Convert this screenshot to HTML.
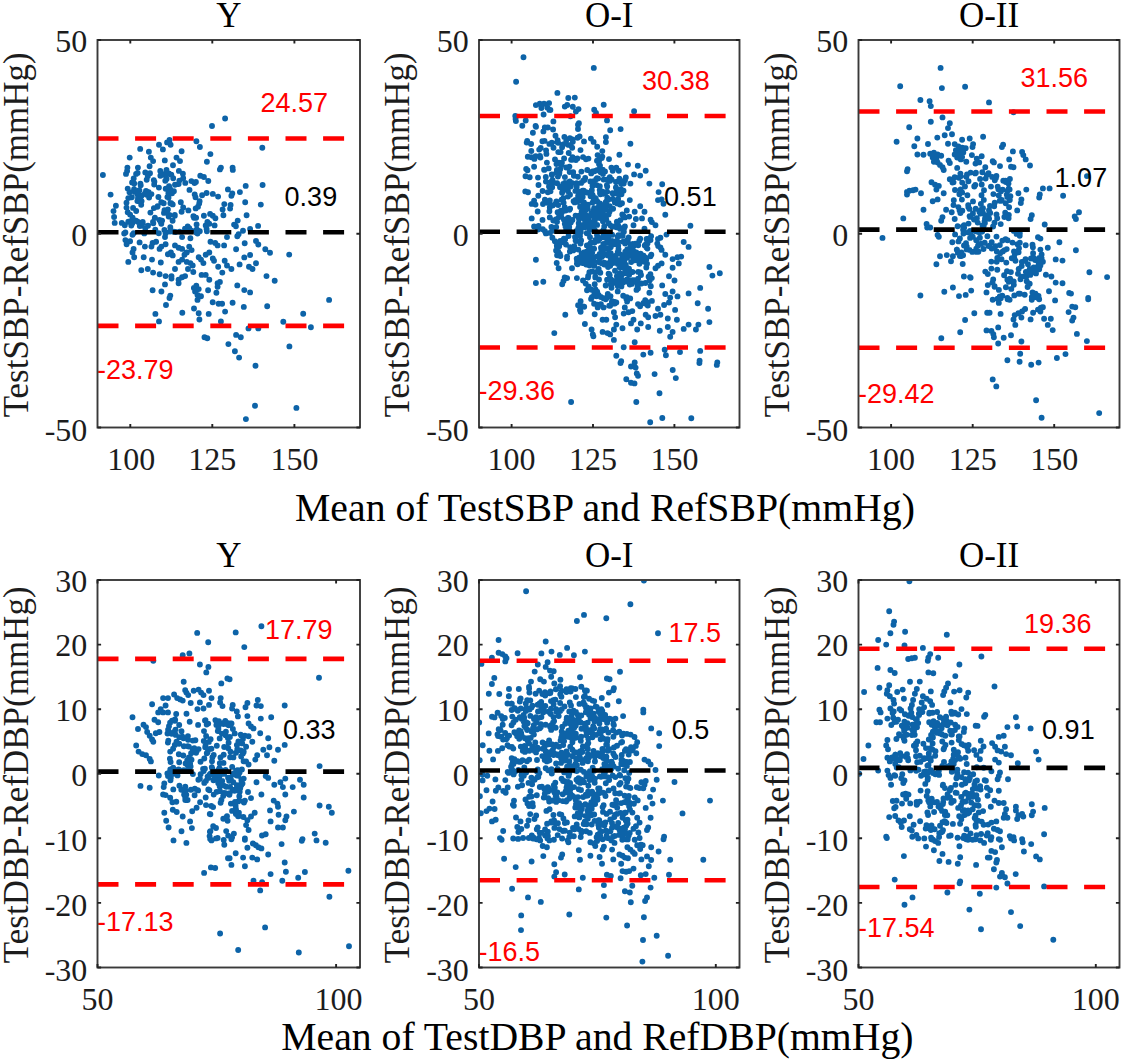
<!DOCTYPE html><html><head><meta charset="utf-8"><style>html,body{margin:0;padding:0;background:#fff;width:1125px;height:1062px;overflow:hidden}svg{display:block}.s{font-family:"Liberation Serif",serif;fill:#1c1c1c}.a{font-family:"Liberation Sans",sans-serif;font-size:27px}</style></head><body>
<svg width="1125" height="1062" viewBox="0 0 1125 1062">
<rect width="1125" height="1062" fill="#fff"/>
<defs><filter id="bl" x="-5%" y="-5%" width="110%" height="110%"><feGaussianBlur stdDeviation="0.45"/></filter></defs>
<clipPath id="ct1"><rect x="97.5" y="40.0" width="262.5" height="387.5"/></clipPath>
<g clip-path="url(#ct1)"><path filter="url(#bl)" d="M225.1 118.5h0M212.0 126.0h0M262.3 147.7h0M199.9 147.0h0M196.4 141.2h0M210.4 154.1h0M206.9 161.8h0M181.6 151.3h0M167.1 142.4h0M170.6 144.7h0M159.0 144.7h0M162.9 149.4h0M140.2 148.9h0M148.9 151.7h0M129.7 157.6h0M150.8 157.6h0M153.1 161.1h0M164.8 160.4h0M176.5 157.6h0M180.0 161.1h0M173.0 165.3h0M149.6 166.2h0M127.4 167.6h0M137.9 167.6h0M220.9 167.6h0M232.6 167.6h0M169.5 140.0h0M124.2 233.5h0M125.4 240.1h0M127.7 241.8h0M130.1 241.2h0M126.6 244.2h0M132.5 234.7h0M139.6 242.4h0M144.9 246.6h0M133.6 248.9h0M132.5 252.5h0M134.2 257.2h0M128.3 261.9h0M143.7 257.2h0M152.0 259.6h0M160.8 262.5h0M152.6 243.0h0M156.1 241.8h0M151.4 246.6h0M159.6 248.9h0M161.4 246.6h0M165.6 244.2h0M165.0 237.1h0M165.6 233.5h0M164.4 230.0h0M167.9 254.2h0M170.9 252.5h0M172.7 255.4h0M175.0 245.4h0M178.6 247.7h0M182.1 248.9h0M182.1 237.1h0M190.4 238.3h0M189.2 246.6h0M191.6 250.1h0M186.8 252.5h0M184.5 254.8h0M178.6 261.9h0M182.1 259.6h0M186.8 261.9h0M190.4 263.1h0M192.7 265.5h0M175.0 269.0h0M188.0 269.0h0M193.3 272.0h0M141.3 270.2h0M147.8 269.0h0M153.1 272.6h0M159.6 274.3h0M165.6 276.1h0M171.5 276.1h0M171.5 278.5h0M178.6 279.7h0M182.1 277.3h0M185.1 276.1h0M178.6 283.2h0M165.0 284.4h0M152.6 290.3h0M161.4 291.5h0M170.3 295.6h0M193.9 287.9h0M196.3 285.6h0M195.1 291.5h0M198.7 289.1h0M197.5 295.0h0M201.0 296.2h0M208.1 290.3h0M201.6 274.9h0M205.7 274.9h0M209.3 279.7h0M217.6 283.2h0M219.9 282.0h0M217.6 286.8h0M216.4 292.7h0M218.2 266.7h0M222.3 272.6h0M198.7 257.2h0M201.0 259.6h0M203.4 263.1h0M205.7 254.8h0M209.3 252.5h0M212.8 258.4h0M214.0 260.7h0M224.7 260.7h0M227.0 265.5h0M210.5 241.8h0M215.2 243.0h0M217.6 245.4h0M224.1 245.4h0M227.0 237.1h0M206.9 231.2h0M197.5 233.5h0M199.8 231.2h0M196.3 230.0h0M237.3 236.3h0M244.7 243.3h0M236.1 249.2h0M256.0 241.0h0M258.3 244.5h0M265.3 249.2h0M270.0 252.7h0M289.2 254.6h0M244.3 257.4h0M250.1 255.0h0M231.4 269.0h0M239.6 264.4h0M249.0 266.7h0M256.0 263.2h0M252.5 269.0h0M266.5 276.1h0M274.7 280.7h0M237.3 285.4h0M244.3 290.1h0M250.1 292.4h0M166.0 305.0h0M155.4 313.9h0M159.0 321.4h0M182.3 312.7h0M194.0 308.5h0M198.7 313.2h0M199.4 319.5h0M197.5 299.9h0M208.7 313.9h0M212.7 302.2h0M218.6 303.8h0M222.1 303.8h0M225.1 311.6h0M232.6 302.7h0M243.8 306.9h0M267.2 306.2h0M220.9 321.4h0M204.5 337.3h0M207.3 338.2h0M236.1 334.9h0M240.8 337.3h0M228.4 344.1h0M234.9 351.3h0M239.1 357.6h0M248.5 328.4h0M258.3 328.4h0M283.3 321.8h0M303.2 313.7h0M310.9 327.2h0M289.4 346.4h0M329.1 299.9h0M169.5 298.0h0M255.5 365.8h0M255.0 405.8h0M296.4 407.9h0M245.9 419.1h0M219.9 169.4h0M232.8 169.9h0M200.3 175.7h0M203.9 177.0h0M208.3 181.0h0M195.9 181.9h0M245.7 185.9h0M262.6 185.0h0M227.9 189.4h0M232.3 193.4h0M231.4 195.7h0M239.9 192.1h0M202.1 195.2h0M206.6 193.0h0M212.8 193.9h0M218.1 196.6h0M245.2 202.3h0M260.8 204.6h0M224.3 204.1h0M222.6 209.4h0M223.4 215.2h0M230.6 205.0h0M230.1 208.6h0M246.6 215.2h0M203.9 215.7h0M210.1 213.9h0M212.8 215.7h0M215.4 218.3h0M207.4 221.9h0M205.7 225.4h0M209.2 223.7h0M214.6 225.4h0M206.6 229.0h0M237.7 220.6h0M234.1 224.6h0M235.9 226.3h0M258.1 225.9h0M243.0 230.8h0M238.6 234.3h0M250.1 229.0h0M102.9 175.0h0M110.6 194.6h0M115.9 205.8h0M113.5 211.1h0M114.1 217.0h0M114.7 222.9h0M121.8 222.9h0M126.5 202.8h0M126.5 207.6h0M127.7 212.3h0M130.1 214.6h0M128.3 221.7h0M124.8 225.3h0M125.4 232.4h0M127.1 170.9h0M126.0 173.9h0M127.7 188.6h0M129.5 192.2h0M128.3 198.1h0M132.1 182.5h0M137.4 194.3h0M134.6 191.8h0M141.4 196.1h0M158.9 187.6h0M147.8 176.3h0M134.1 189.1h0M138.0 198.3h0M146.0 190.9h0M137.4 201.1h0M147.3 194.5h0M134.2 183.5h0M146.7 194.7h0M151.4 194.1h0M144.8 193.8h0M160.3 170.9h0M137.6 172.9h0M140.4 183.6h0M133.7 178.5h0M150.0 173.2h0M136.1 173.9h0M140.7 185.2h0M141.6 201.1h0M139.4 190.2h0M147.6 195.0h0M145.3 172.4h0M158.4 197.0h0M154.4 181.7h0M146.7 179.8h0M160.4 175.8h0M141.5 195.4h0M154.2 184.5h0M149.1 197.6h0M131.8 197.2h0M148.7 192.1h0M153.8 180.1h0M173.2 178.2h0M175.0 184.7h0M166.6 178.9h0M178.6 184.0h0M168.5 197.7h0M185.3 182.9h0M166.3 174.7h0M194.7 194.5h0M164.5 174.9h0M171.3 174.8h0M168.4 193.2h0M191.4 181.1h0M165.7 188.8h0M169.1 186.2h0M182.9 173.7h0M172.1 193.3h0M178.9 170.9h0M165.6 173.4h0M173.9 191.3h0M179.4 180.6h0M170.2 189.2h0M168.7 173.4h0M183.2 178.3h0M194.5 183.1h0M189.5 189.9h0M166.5 170.0h0M165.3 180.8h0M167.4 197.1h0M195.5 197.2h0M153.3 223.3h0M157.4 206.8h0M148.0 225.7h0M141.6 224.7h0M153.0 221.9h0M136.2 211.0h0M158.8 233.3h0M142.7 221.9h0M139.8 226.0h0M137.7 221.7h0M150.4 212.6h0M131.3 225.6h0M132.6 217.6h0M144.3 233.4h0M159.5 219.9h0M153.9 208.1h0M161.3 202.3h0M136.1 220.7h0M133.1 207.9h0M161.3 223.8h0M142.7 222.9h0M157.6 206.2h0M162.1 220.6h0M160.7 221.9h0M154.9 217.6h0M145.3 228.3h0M155.3 229.8h0M154.8 218.0h0M130.7 221.1h0M141.2 204.7h0M133.7 233.2h0M132.2 223.5h0M140.2 225.9h0M171.3 203.2h0M175.6 232.0h0M174.8 215.8h0M193.4 216.2h0M191.3 230.7h0M185.0 228.8h0M164.5 210.3h0M163.7 203.3h0M170.3 227.2h0M167.6 210.1h0M164.0 212.9h0M169.5 215.0h0M170.0 231.6h0M195.7 208.4h0M189.3 228.2h0M187.7 226.4h0M172.7 204.4h0M183.2 207.4h0M172.6 220.7h0M181.6 211.7h0M180.8 202.2h0M174.8 214.9h0M179.7 231.6h0M173.0 231.5h0M168.7 216.5h0M188.4 210.4h0M170.4 203.3h0M167.9 209.5h0M194.0 217.7h0M198.0 206.8h0M196.1 217.8h0M196.2 232.4h0M199.6 201.2h0M196.8 229.5h0M196.6 224.4h0M199.2 203.6h0" stroke="#0a63a8" stroke-width="5.9" stroke-linecap="round" fill="none"/></g>
<line x1="97.5" x2="360.0" y1="138.5" y2="138.5" stroke="#ff0000" stroke-width="4.6" stroke-dasharray="21 16.6"/>
<line x1="97.5" x2="360.0" y1="232.2" y2="232.2" stroke="#000" stroke-width="4.6" stroke-dasharray="21 16.6"/>
<line x1="97.5" x2="360.0" y1="325.9" y2="325.9" stroke="#ff0000" stroke-width="4.6" stroke-dasharray="21 16.6"/>
<text class="a" x="260.4" y="112.0" fill="#ff0000">24.57</text>
<text class="a" x="284.6" y="205.5" fill="#000">0.39</text>
<text class="a" x="97.0" y="378.5" fill="#ff0000">-23.79</text>
<rect x="97.5" y="40.0" width="262.5" height="387.5" fill="none" stroke="#3a3a3a" stroke-width="1.9"/>
<path d="M130.3 427.5v-3.6M130.3 40.0v3.6M212.3 427.5v-3.6M212.3 40.0v3.6M294.4 427.5v-3.6M294.4 40.0v3.6M97.5 40.0h3.6M360.0 40.0h-3.6M97.5 233.8h3.6M360.0 233.8h-3.6M97.5 427.5h3.6M360.0 427.5h-3.6" stroke="#222" stroke-width="1.9" fill="none"/>
<text class="s" x="131.3" y="470.0" font-size="32" text-anchor="middle">100</text>
<text class="s" x="212.3" y="470.0" font-size="32" text-anchor="middle">125</text>
<text class="s" x="294.4" y="470.0" font-size="32" text-anchor="middle">150</text>
<text class="s" x="87.3" y="51.5" font-size="32" text-anchor="end">50</text>
<text class="s" x="87.3" y="246.2" font-size="32" text-anchor="end">0</text>
<text class="s" x="87.3" y="441.0" font-size="32" text-anchor="end">-50</text>
<text class="s" x="228.8" y="26.5" font-size="35" text-anchor="middle" style="fill:#000">Y</text>
<text class="s" transform="translate(27.8,234.8) rotate(-90)" x="0" y="0" font-size="35" text-anchor="middle">TestSBP-RefSBP(mmHg)</text>
<clipPath id="ct2"><rect x="479.0" y="40.0" width="260.5" height="387.5"/></clipPath>
<g clip-path="url(#ct2)"><path filter="url(#bl)" d="M523.5 57.2h0M593.8 67.9h0M516.1 81.8h0M557.4 92.9h0M568.3 98.0h0M574.8 97.6h0M539.8 103.8h0M544.0 103.8h0M549.1 103.1h0M567.2 105.0h0M620.5 363.0h0M631.0 366.5h0M635.6 367.6h0M636.8 373.4h0M638.0 375.8h0M626.3 379.2h0M631.0 382.7h0M634.5 383.4h0M654.6 374.1h0M672.7 370.0h0M675.8 378.1h0M659.5 393.2h0M636.3 402.0h0M571.1 402.0h0M662.3 418.0h0M650.2 422.2h0M691.3 418.2h0M699.4 363.0h0M716.8 364.9h0M634.1 111.3h0M610.2 130.3h0M620.6 129.1h0M630.4 143.8h0M619.4 154.8h0M609.0 159.1h0M628.0 164.6h0M637.8 165.8h0M645.7 170.7h0M634.1 174.4h0M640.2 175.6h0M611.4 167.6h0M616.3 167.6h0M618.8 170.7h0M612.7 170.7h0M619.4 178.7h0M623.7 183.6h0M630.4 183.6h0M649.4 183.6h0M662.2 184.2h0M658.6 192.1h0M658.0 200.1h0M661.6 199.5h0M663.5 203.8h0M665.3 214.8h0M690.4 225.8h0M629.8 200.1h0M640.2 206.2h0M644.5 211.7h0M634.7 211.7h0M629.2 216.6h0M635.9 219.0h0M642.0 218.4h0M650.6 219.7h0M651.8 222.1h0M655.5 225.2h0M633.5 225.2h0M624.9 226.4h0M644.5 228.8h0M535.9 259.7h0M535.9 283.0h0M543.3 281.7h0M558.6 268.3h0M572.0 268.3h0M564.7 277.5h0M567.1 278.1h0M562.2 284.2h0M563.5 281.1h0M576.9 278.1h0M583.0 280.5h0M556.1 250.5h0M560.4 256.0h0M552.4 237.7h0M554.9 241.3h0M580.6 301.3h0M580.0 309.9h0M580.6 311.7h0M565.3 314.8h0M584.9 324.0h0M554.3 333.1h0M591.6 329.5h0M592.8 334.4h0M593.4 336.2h0M594.7 314.2h0M602.6 319.7h0M606.3 319.7h0M602.6 331.9h0M607.5 333.1h0M597.7 307.4h0M594.1 303.8h0M658.0 238.9h0M660.4 237.7h0M666.5 234.6h0M683.7 242.0h0M688.6 246.9h0M665.3 254.8h0M660.4 247.5h0M661.6 249.9h0M672.6 259.1h0M677.5 257.3h0M681.2 256.6h0M678.8 263.4h0M672.6 267.7h0M661.6 263.4h0M658.0 265.8h0M655.5 268.3h0M651.8 278.1h0M669.0 276.2h0M674.5 280.5h0M662.2 285.4h0M709.4 267.0h0M712.4 275.6h0M719.8 273.2h0M700.2 287.9h0M688.6 293.4h0M672.6 291.5h0M665.3 294.0h0M670.2 297.6h0M677.5 296.4h0M697.7 303.2h0M708.1 308.7h0M658.0 308.7h0M664.1 305.0h0M669.0 302.5h0M675.1 309.9h0M655.5 316.0h0M660.4 314.8h0M645.7 314.8h0M648.2 317.2h0M667.8 318.5h0M676.9 319.7h0M709.4 322.1h0M688.6 324.6h0M698.4 324.6h0M695.9 329.5h0M683.7 328.9h0M667.8 327.0h0M672.6 331.9h0M670.2 336.8h0M659.8 330.7h0M648.2 327.0h0M637.2 329.5h0M640.8 323.4h0M613.9 312.3h0M615.1 317.2h0M623.7 313.6h0M628.6 312.3h0M632.3 311.1h0M633.5 319.7h0M631.0 323.4h0M616.3 324.6h0M613.9 329.5h0M622.5 328.3h0M610.2 334.4h0M613.9 339.9h0M623.7 347.2h0M634.7 342.3h0M616.3 355.8h0M621.2 361.3h0M634.7 362.5h0M643.3 354.6h0M650.6 352.7h0M664.7 349.7h0M665.9 355.2h0M680.0 352.1h0M700.2 350.9h0M699.6 360.7h0M717.3 362.5h0M543.6 114.5h0M522.3 125.8h0M515.6 119.0h0M541.4 108.1h0M536.0 126.8h0M535.6 125.9h0M525.7 120.5h0M515.9 121.1h0M532.9 132.7h0M535.9 105.1h0M543.4 131.4h0M515.3 116.0h0M570.5 116.2h0M575.9 111.6h0M553.1 129.5h0M547.5 107.7h0M553.4 121.4h0M555.5 135.8h0M564.8 106.6h0M544.8 127.5h0M547.8 127.5h0M550.4 110.0h0M572.8 106.8h0M549.4 109.9h0M578.9 123.3h0M594.2 109.8h0M579.6 136.5h0M607.0 120.4h0M578.0 124.8h0M578.5 109.1h0M603.7 104.8h0M596.0 112.9h0M578.0 129.0h0M542.4 141.3h0M531.3 157.2h0M540.0 156.0h0M539.2 149.6h0M534.4 158.9h0M534.1 166.7h0M526.2 168.9h0M540.7 147.9h0M527.8 156.8h0M535.7 156.3h0M526.7 142.6h0M540.4 157.5h0M527.2 141.0h0M531.3 151.0h0M531.1 144.0h0M555.0 159.5h0M544.5 140.9h0M561.9 162.8h0M563.2 144.4h0M556.5 164.1h0M548.7 168.4h0M566.3 140.3h0M571.1 159.8h0M546.1 150.5h0M569.4 166.6h0M546.9 162.6h0M561.4 165.0h0M569.9 138.1h0M564.4 137.0h0M566.2 167.5h0M558.3 152.1h0M562.1 147.3h0M575.9 160.1h0M553.5 147.7h0M558.1 142.8h0M568.7 153.0h0M546.4 153.9h0M549.4 143.9h0M572.8 141.8h0M572.1 159.8h0M564.1 158.5h0M572.6 157.1h0M568.5 144.9h0M557.6 140.3h0M572.2 147.7h0M558.8 162.7h0M572.4 139.5h0M570.8 145.5h0M557.2 142.1h0M551.8 142.7h0M560.6 152.1h0M600.0 165.8h0M597.0 160.7h0M577.4 158.5h0M602.3 156.6h0M602.3 151.1h0M583.1 157.1h0M590.9 138.6h0M588.4 158.6h0M597.2 146.7h0M605.9 137.3h0M601.8 158.1h0M593.6 141.9h0M577.6 137.7h0M584.0 141.4h0M586.0 159.2h0M605.9 142.1h0M599.0 164.0h0M599.0 161.4h0M600.3 158.2h0M597.6 155.1h0M580.5 150.1h0M534.1 200.6h0M538.0 177.6h0M527.5 170.3h0M525.3 191.4h0M538.5 185.0h0M525.5 176.3h0M538.3 195.8h0M542.6 191.0h0M529.7 177.3h0M528.0 192.3h0M567.6 186.3h0M544.3 169.9h0M576.5 185.6h0M551.8 174.5h0M560.2 169.2h0M552.2 187.3h0M544.9 199.8h0M570.0 194.8h0M568.0 191.2h0M549.3 191.6h0M575.4 190.9h0M550.9 181.9h0M559.4 172.8h0M562.1 192.7h0M552.5 180.2h0M559.1 174.3h0M544.1 169.7h0M549.8 200.5h0M573.6 201.3h0M568.0 196.6h0M573.9 175.8h0M573.2 172.1h0M564.4 184.3h0M556.3 173.0h0M557.9 176.6h0M560.0 187.3h0M571.8 183.0h0M575.5 199.9h0M569.8 181.5h0M557.1 183.3h0M576.6 183.2h0M549.0 186.5h0M556.9 170.0h0M564.9 183.0h0M545.9 181.6h0M545.8 177.0h0M551.9 174.9h0M569.7 172.1h0M553.3 182.4h0M561.6 199.8h0M547.9 192.3h0M550.5 191.2h0M563.2 184.0h0M569.1 181.9h0M564.9 177.1h0M563.4 198.3h0M563.5 189.5h0M570.6 186.6h0M606.9 185.3h0M584.4 180.1h0M605.0 171.5h0M577.9 191.1h0M583.2 180.8h0M598.0 178.4h0M596.9 170.3h0M585.2 177.9h0M586.9 192.5h0M591.2 173.4h0M591.8 190.3h0M603.5 192.9h0M600.2 171.2h0M590.4 181.5h0M606.6 201.2h0M577.9 176.7h0M596.7 185.1h0M607.1 191.6h0M578.1 196.0h0M602.7 191.6h0M592.7 195.2h0M582.7 197.0h0M580.9 195.1h0M583.8 190.7h0M597.0 178.3h0M594.3 197.7h0M602.4 193.9h0M600.7 172.3h0M606.7 179.6h0M581.0 193.1h0M576.7 186.7h0M595.8 198.8h0M588.0 192.6h0M595.4 198.2h0M584.0 192.2h0M594.5 171.3h0M600.0 193.3h0M581.2 192.1h0M600.4 194.3h0M579.2 200.0h0M603.0 173.9h0M599.7 190.0h0M592.5 186.0h0M578.6 196.6h0M605.5 193.2h0M581.4 171.6h0M595.9 184.6h0M587.3 170.0h0M579.8 199.9h0M592.0 194.3h0M593.7 181.3h0M602.8 169.7h0M582.6 190.8h0M592.6 171.4h0M581.2 182.9h0M603.6 179.6h0M607.2 186.4h0M607.3 197.7h0M599.8 186.2h0M596.2 179.3h0M590.6 196.3h0M593.7 200.6h0M608.3 199.8h0M531.7 218.4h0M531.7 203.9h0M538.0 229.5h0M534.1 226.5h0M535.5 204.6h0M542.8 229.2h0M542.5 219.9h0M537.7 211.5h0M543.0 204.0h0M538.5 225.9h0M549.9 232.9h0M566.2 229.0h0M551.4 226.9h0M566.0 221.7h0M556.2 227.1h0M552.0 231.1h0M564.8 223.8h0M560.9 210.8h0M558.7 217.3h0M548.1 203.1h0M565.5 226.4h0M567.4 224.1h0M557.6 212.3h0M576.5 231.0h0M556.4 201.5h0M563.9 219.4h0M563.6 202.8h0M549.4 211.2h0M569.5 209.7h0M564.7 207.2h0M568.6 218.0h0M565.7 210.5h0M545.9 233.4h0M558.2 205.1h0M569.5 221.9h0M549.8 207.5h0M552.7 205.4h0M570.1 208.7h0M574.7 202.4h0M555.6 203.8h0M549.8 217.4h0M569.2 227.0h0M572.4 219.9h0M561.2 216.6h0M554.7 227.8h0M561.8 212.6h0M544.9 231.3h0M553.3 220.5h0M570.8 222.4h0M569.4 230.5h0M575.6 215.6h0M567.9 218.0h0M557.0 221.8h0M556.3 219.3h0M587.8 204.6h0M586.0 215.2h0M595.8 216.3h0M583.7 216.3h0M603.9 232.7h0M603.6 229.6h0M607.8 232.9h0M584.4 227.4h0M594.4 210.8h0M583.0 202.6h0M600.9 205.2h0M584.0 202.4h0M587.7 208.6h0M584.9 223.6h0M608.6 214.4h0M586.6 226.1h0M604.8 204.6h0M589.1 228.0h0M581.6 212.2h0M579.5 216.8h0M577.3 201.9h0M598.8 207.1h0M600.7 214.3h0M604.3 226.2h0M579.4 224.8h0M578.7 227.0h0M601.3 212.7h0M579.5 232.0h0M581.3 207.1h0M580.6 229.8h0M593.8 223.8h0M579.0 218.9h0M594.7 221.8h0M599.0 205.8h0M585.5 209.9h0M602.9 230.9h0M588.1 223.5h0M578.3 228.3h0M598.6 217.9h0M593.4 210.4h0M601.5 211.0h0M587.1 222.0h0M603.2 213.3h0M581.7 209.3h0M602.9 221.3h0M595.8 214.1h0M592.6 214.4h0M602.1 213.2h0M587.5 206.6h0M587.9 233.0h0M580.7 225.2h0M602.1 210.5h0M594.8 215.8h0M606.7 215.5h0M578.9 215.7h0M598.9 215.7h0M596.2 209.9h0M588.9 217.1h0M580.8 232.2h0M594.2 220.9h0M589.9 230.1h0M585.1 221.2h0M578.2 231.0h0M585.0 220.0h0M583.8 218.6h0M606.3 219.6h0M584.9 216.9h0M591.4 212.9h0M586.2 219.6h0M580.1 207.0h0M592.8 226.6h0M599.9 203.5h0M605.3 217.3h0M578.5 216.9h0M595.0 230.4h0M597.8 213.6h0M590.6 223.1h0M592.8 222.0h0M608.7 223.2h0M584.5 206.3h0M588.7 220.8h0M592.5 202.6h0M605.7 202.2h0M587.6 221.1h0M605.1 209.5h0M584.1 214.9h0M594.2 217.1h0M597.5 201.8h0M586.8 233.3h0M584.5 226.8h0M584.2 203.4h0M597.1 224.9h0M583.1 215.9h0M594.4 213.2h0M600.7 208.7h0M594.1 208.3h0M578.7 223.2h0M606.8 205.5h0M583.5 226.2h0M600.8 218.3h0M588.3 233.4h0M587.4 233.1h0M616.6 191.8h0M620.4 220.1h0M619.6 193.6h0M624.9 217.4h0M623.6 215.9h0M620.2 228.9h0M617.6 203.5h0M623.0 190.9h0M623.9 231.7h0M621.5 194.2h0M615.1 226.2h0M612.2 226.7h0M614.9 202.4h0M617.0 193.2h0M620.5 181.5h0M609.5 211.7h0M618.1 225.3h0M611.6 179.5h0M622.0 203.2h0M610.2 180.7h0M619.0 194.3h0M616.3 227.2h0M625.8 177.5h0M613.1 208.8h0M609.8 177.1h0M610.6 225.6h0M614.7 193.4h0M620.0 204.6h0M625.0 180.2h0M615.9 187.5h0M621.4 228.1h0M626.8 210.5h0M612.5 193.2h0M621.2 183.5h0M609.7 206.3h0M616.9 221.7h0M612.6 198.9h0M618.1 199.0h0M617.2 203.4h0M624.1 228.3h0M620.0 228.4h0M618.0 203.5h0M616.0 181.9h0M622.3 214.4h0M620.8 189.1h0M623.5 190.8h0M589.5 265.5h0M604.3 264.6h0M586.6 252.7h0M590.0 237.3h0M590.8 242.7h0M603.0 250.4h0M592.5 256.7h0M598.1 240.8h0M582.5 263.0h0M601.3 249.3h0M576.9 263.6h0M577.6 235.0h0M576.7 258.6h0M594.3 265.8h0M591.9 253.6h0M590.5 254.0h0M589.8 259.9h0M599.0 257.6h0M586.2 264.6h0M608.8 253.1h0M601.7 257.0h0M607.6 235.2h0M582.1 259.5h0M597.0 235.3h0M607.1 263.5h0M608.4 265.2h0M590.1 253.6h0M582.7 258.8h0M579.0 260.4h0M595.5 240.0h0M604.2 262.7h0M603.3 244.0h0M577.0 260.7h0M603.1 255.4h0M599.7 254.0h0M579.5 257.4h0M601.8 263.2h0M603.7 246.9h0M608.3 237.9h0M601.5 252.9h0M606.9 242.5h0M581.1 240.5h0M578.3 249.6h0M603.5 263.1h0M606.0 263.5h0M592.2 252.4h0M588.7 257.2h0M603.5 234.6h0M604.7 237.5h0M583.6 255.2h0M608.8 263.6h0M609.1 240.1h0M593.5 261.0h0M589.7 244.4h0M608.0 255.6h0M586.7 255.0h0M577.6 264.2h0M580.5 243.5h0M606.1 248.5h0M598.7 261.9h0M584.1 259.6h0M599.8 262.6h0M590.0 247.0h0M590.6 261.5h0M594.1 248.8h0M597.2 256.4h0M607.4 248.4h0M581.7 253.5h0M580.0 236.2h0M594.5 242.6h0M599.9 238.4h0M608.1 239.4h0M589.0 248.7h0M587.4 259.7h0M589.6 251.0h0M601.0 247.8h0M600.1 238.2h0M583.9 252.4h0M591.8 262.1h0M586.9 245.4h0M603.1 252.8h0M586.6 251.6h0M589.3 250.9h0M568.5 236.0h0M559.8 253.9h0M567.0 258.5h0M557.4 244.5h0M567.1 256.6h0M563.8 242.4h0M575.0 236.9h0M556.9 246.6h0M558.1 251.1h0M575.6 240.5h0M569.9 251.5h0M557.1 255.3h0M566.0 244.5h0M559.2 246.2h0M570.2 247.2h0M560.3 240.9h0M556.8 245.1h0M576.2 241.1h0M556.7 263.0h0M565.1 239.4h0M573.2 250.4h0M574.3 246.1h0M563.9 238.6h0M594.7 284.3h0M588.0 277.6h0M589.4 272.2h0M592.2 271.5h0M588.2 276.0h0M608.6 273.7h0M596.5 272.0h0M607.1 279.7h0M596.5 296.2h0M591.6 289.8h0M600.8 297.0h0M597.2 291.8h0M605.7 285.5h0M593.8 295.6h0M598.7 269.0h0M594.4 292.1h0M591.1 298.9h0M595.7 291.7h0M595.3 277.4h0M607.8 294.0h0M606.7 298.0h0M598.5 294.9h0M595.3 276.7h0M585.7 283.6h0M598.7 295.3h0M588.6 286.4h0M595.5 289.4h0M600.3 272.7h0M595.6 295.2h0M608.1 267.1h0M587.0 290.2h0M599.0 279.5h0M591.9 297.2h0M634.0 251.8h0M635.3 243.6h0M630.7 244.9h0M625.1 264.2h0M624.1 261.2h0M621.9 255.1h0M617.8 264.0h0M617.6 236.8h0M624.3 260.4h0M612.1 234.7h0M610.7 253.2h0M629.8 255.9h0M612.1 241.2h0M610.7 260.8h0M640.6 253.6h0M639.3 240.8h0M621.5 234.9h0M624.4 259.3h0M639.8 258.3h0M619.4 264.8h0M618.2 245.7h0M640.8 259.4h0M640.2 238.8h0M636.9 244.1h0M635.8 260.0h0M613.1 263.1h0M613.5 261.2h0M611.9 234.9h0M620.9 235.7h0M616.8 241.8h0M633.1 254.4h0M618.4 235.3h0M626.5 253.6h0M616.3 243.9h0M622.6 235.8h0M616.1 260.3h0M627.0 240.3h0M638.2 245.3h0M636.1 259.7h0M633.1 257.2h0M635.6 255.3h0M613.8 244.3h0M618.5 249.2h0M618.8 253.1h0M619.6 260.2h0M611.5 244.0h0M611.5 261.3h0M625.8 264.9h0M639.8 255.8h0M617.7 252.2h0M637.2 255.3h0M622.1 264.4h0M616.5 241.2h0M612.7 241.1h0M633.3 245.9h0M631.2 262.0h0M633.5 246.3h0M618.2 242.1h0M610.2 265.7h0M628.7 237.5h0M627.8 240.9h0M610.6 257.2h0M634.0 260.4h0M617.2 241.3h0M620.3 259.9h0M630.5 247.2h0M639.4 263.8h0M632.3 256.3h0M629.4 251.9h0M636.3 252.4h0M625.1 243.6h0M615.8 255.8h0M625.3 251.6h0M623.2 241.7h0M614.3 256.8h0M627.2 249.5h0M632.8 244.0h0M633.8 245.0h0M627.0 257.8h0M610.7 247.3h0M614.4 259.8h0M635.9 253.1h0M634.4 280.3h0M637.8 288.5h0M621.4 285.6h0M617.8 286.1h0M615.0 270.7h0M628.5 281.8h0M621.0 282.8h0M637.6 286.4h0M623.6 273.6h0M614.3 282.7h0M610.5 296.1h0M611.5 287.7h0M627.1 279.5h0M622.9 282.6h0M625.1 269.8h0M619.5 266.7h0M624.9 280.5h0M632.8 280.2h0M622.8 281.2h0M638.0 288.4h0M636.5 289.9h0M621.4 286.4h0M629.8 281.0h0M619.7 273.1h0M624.9 267.8h0M619.2 281.3h0M626.1 281.5h0M638.2 271.9h0M623.2 295.7h0M628.4 273.4h0M626.9 297.3h0M611.0 279.5h0M640.3 272.4h0M621.2 275.9h0M615.6 283.1h0M615.1 281.0h0M609.3 274.1h0M624.5 273.2h0M641.6 283.5h0M635.2 281.8h0M620.3 267.6h0M629.1 274.9h0M631.7 283.9h0M629.8 284.6h0M641.0 275.0h0M629.0 268.6h0M638.1 278.6h0M617.7 291.4h0M637.1 282.5h0M616.9 276.3h0M609.7 275.3h0M610.9 284.2h0M632.5 272.0h0M627.1 269.7h0M645.9 244.3h0M647.7 238.9h0M657.3 243.6h0M651.3 254.8h0M644.5 259.5h0M650.5 240.1h0M647.5 243.6h0M646.3 267.5h0M651.1 236.3h0M643.5 261.0h0M646.3 259.4h0M646.5 247.5h0M649.2 239.2h0M658.2 246.1h0M644.8 245.5h0M647.0 263.7h0M647.4 248.6h0M646.6 239.0h0M650.5 256.2h0M644.5 261.8h0M643.6 255.6h0M645.4 257.6h0M650.8 286.2h0M650.4 274.3h0M648.6 276.7h0M645.2 300.2h0M645.4 283.0h0M647.8 305.5h0M649.6 280.4h0M650.7 285.9h0M647.6 302.3h0M649.4 292.8h0M651.9 300.9h0M643.5 302.9h0M650.6 279.0h0M645.0 303.6h0M638.0 304.1h0M603.5 298.2h0M616.3 302.4h0M612.7 303.6h0M600.9 304.1h0M630.2 298.4h0M610.1 305.8h0M614.5 302.0h0M626.4 298.9h0M612.1 301.2h0M611.8 302.1h0M624.8 307.5h0M614.8 303.5h0M640.1 306.2h0M605.7 299.3h0M603.6 307.4h0M627.1 301.6h0M609.3 305.8h0M578.1 305.3h0M584.2 306.7h0M582.7 306.5h0M597.2 304.8h0" stroke="#0a63a8" stroke-width="5.9" stroke-linecap="round" fill="none"/></g>
<line x1="479.0" x2="739.5" y1="116.0" y2="116.0" stroke="#ff0000" stroke-width="4.6" stroke-dasharray="21 16.6"/>
<line x1="479.0" x2="739.5" y1="231.8" y2="231.8" stroke="#000" stroke-width="4.6" stroke-dasharray="21 16.6"/>
<line x1="479.0" x2="739.5" y1="347.5" y2="347.5" stroke="#ff0000" stroke-width="4.6" stroke-dasharray="21 16.6"/>
<text class="a" x="642.1" y="89.5" fill="#ff0000">30.38</text>
<text class="a" x="664.1" y="205.5" fill="#000">0.51</text>
<text class="a" x="478.5" y="399.5" fill="#ff0000">-29.36</text>
<rect x="479.0" y="40.0" width="260.5" height="387.5" fill="none" stroke="#3a3a3a" stroke-width="1.9"/>
<path d="M511.6 427.5v-3.6M511.6 40.0v3.6M593.0 427.5v-3.6M593.0 40.0v3.6M674.4 427.5v-3.6M674.4 40.0v3.6M479.0 40.0h3.6M739.5 40.0h-3.6M479.0 233.8h3.6M739.5 233.8h-3.6M479.0 427.5h3.6M739.5 427.5h-3.6" stroke="#222" stroke-width="1.9" fill="none"/>
<text class="s" x="511.6" y="470.0" font-size="32" text-anchor="middle">100</text>
<text class="s" x="593.0" y="470.0" font-size="32" text-anchor="middle">125</text>
<text class="s" x="674.4" y="470.0" font-size="32" text-anchor="middle">150</text>
<text class="s" x="468.8" y="51.5" font-size="32" text-anchor="end">50</text>
<text class="s" x="468.8" y="246.2" font-size="32" text-anchor="end">0</text>
<text class="s" x="468.8" y="441.0" font-size="32" text-anchor="end">-50</text>
<text class="s" x="609.2" y="26.5" font-size="35" text-anchor="middle" style="fill:#000">O-I</text>
<text class="s" transform="translate(409.3,234.8) rotate(-90)" x="0" y="0" font-size="35" text-anchor="middle">TestSBP-RefSBP(mmHg)</text>
<clipPath id="ct3"><rect x="858.5" y="40.0" width="261.0" height="387.5"/></clipPath>
<g clip-path="url(#ct3)"><path filter="url(#bl)" d="M940.6 67.9h0M900.2 86.3h0M941.9 88.1h0M965.1 86.8h0M920.4 100.0h0M929.6 101.2h0M930.8 106.1h0M989.0 102.4h0M942.5 117.4h0M930.8 121.8h0M949.8 123.2h0M948.0 128.1h0M909.2 127.3h0M896.6 141.8h0M917.4 138.5h0M914.3 146.3h0M928.0 144.0h0M937.3 137.6h0M944.7 135.2h0M952.0 134.3h0M948.0 143.8h0M962.1 139.8h0M969.7 138.5h0M983.1 136.7h0M973.1 144.1h0M972.5 147.1h0M954.7 144.1h0M958.4 146.5h0M962.1 147.7h0M965.7 148.3h0M955.9 150.2h0M959.6 151.4h0M963.3 152.6h0M954.7 154.5h0M958.4 155.7h0M962.1 156.9h0M957.2 157.5h0M960.8 159.4h0M917.4 154.5h0M923.5 154.8h0M930.2 153.8h0M933.9 152.6h0M937.6 154.5h0M941.2 155.7h0M932.7 157.5h0M936.4 159.4h0M933.9 161.8h0M937.6 162.4h0M940.0 164.9h0M942.5 167.3h0M948.6 160.6h0M949.8 163.0h0M966.3 161.8h0M971.9 155.1h0M981.7 156.3h0M976.8 158.7h0M979.2 162.4h0M975.5 163.6h0M957.2 167.9h0M985.3 167.3h0M907.6 169.1h0M1013.5 112.2h0M1003.1 144.7h0M1001.9 147.1h0M1012.9 151.4h0M1022.1 152.0h0M1023.3 155.1h0M1025.7 159.4h0M1030.0 165.5h0M1009.2 159.4h0M992.7 161.2h0M993.9 162.4h0M1000.0 166.1h0M1011.0 166.7h0M1013.5 167.3h0M907.0 171.2h0M943.7 170.0h0M907.0 192.0h0M909.4 190.8h0M913.1 190.2h0M915.5 189.6h0M907.0 194.5h0M921.0 193.3h0M931.5 182.2h0M935.1 184.7h0M938.8 185.9h0M936.4 189.6h0M943.7 193.3h0M932.7 201.2h0M937.6 199.4h0M923.5 209.8h0M903.3 218.4h0M946.1 209.8h0M951.7 212.2h0M942.5 217.1h0M941.2 220.8h0M926.6 223.9h0M927.2 227.5h0M930.2 227.5h0M882.5 237.9h0M937.6 234.9h0M938.8 236.7h0M952.3 242.2h0M940.0 256.3h0M946.8 255.1h0M952.9 256.3h0M951.0 261.2h0M936.4 264.3h0M962.7 264.0h0M963.9 276.5h0M970.0 277.1h0M970.6 277.7h0M985.3 271.6h0M987.8 274.0h0M952.9 287.5h0M944.3 291.8h0M920.4 295.5h0M959.0 296.1h0M965.7 294.9h0M971.2 290.6h0M986.5 292.4h0M987.8 285.1h0M954.7 219.0h0M966.3 176.7h0M949.8 179.2h0M954.7 177.3h0M953.5 182.2h0M1026.3 189.6h0M1042.9 188.4h0M1049.6 188.4h0M1039.8 194.5h0M1039.2 197.5h0M1063.1 195.7h0M1087.0 176.1h0M1079.0 212.2h0M1074.7 216.5h0M1075.9 219.0h0M1031.8 215.3h0M1030.6 219.0h0M1044.7 224.5h0M1059.4 242.2h0M1075.9 250.2h0M1047.8 247.7h0M1055.7 259.4h0M1062.5 260.6h0M1089.4 272.2h0M1107.1 277.1h0M1045.9 274.7h0M1051.4 276.5h0M1055.7 282.6h0M1062.5 283.2h0M1049.0 291.2h0M1069.2 293.0h0M1071.0 293.6h0M1088.2 297.9h0M1032.5 292.4h0M1035.5 293.6h0M1031.8 297.3h0M1038.0 297.9h0M1038.0 237.3h0M1040.4 238.6h0M1032.5 244.7h0M1025.7 245.3h0M1033.1 253.2h0M1040.4 249.6h0M1041.6 254.5h0M1041.6 258.1h0M1042.9 261.8h0M1040.4 265.5h0M1036.7 267.9h0M1039.2 269.2h0M1018.4 193.3h0M1021.4 199.4h0M1020.8 203.1h0M1017.2 210.4h0M1010.4 196.3h0M974.3 313.3h0M987.2 312.7h0M965.1 320.0h0M960.2 332.3h0M986.5 330.4h0M941.3 338.2h0M992.7 299.8h0M998.8 302.9h0M1007.4 298.0h0M1031.8 299.8h0M1039.2 299.2h0M1055.1 300.4h0M1088.2 299.2h0M989.6 312.7h0M1000.6 313.9h0M1014.7 315.1h0M1018.4 313.3h0M1022.1 311.5h0M1025.1 309.0h0M1013.5 319.4h0M1015.3 324.9h0M1021.4 317.6h0M1030.6 319.4h0M1033.1 312.7h0M1038.0 309.6h0M1041.0 307.8h0M1042.9 307.2h0M1040.4 311.5h0M1044.1 318.8h0M1050.8 318.8h0M1047.8 324.9h0M1052.7 330.1h0M1068.6 312.1h0M1072.2 306.6h0M1075.3 307.2h0M1073.5 317.6h0M1072.2 320.6h0M1076.9 333.9h0M1086.9 341.1h0M998.2 327.4h0M991.4 331.0h0M993.3 334.1h0M993.9 337.2h0M1003.7 337.8h0M1011.0 335.3h0M998.2 343.5h0M1021.4 341.5h0M1020.2 353.7h0M1007.4 360.2h0M1019.6 361.7h0M1031.2 364.7h0M1038.6 362.6h0M1056.9 358.0h0M1065.5 354.1h0M992.7 379.4h0M996.3 386.4h0M1036.1 400.2h0M1041.6 417.7h0M1099.2 413.1h0M993.4 194.1h0M1001.2 200.7h0M958.9 177.7h0M988.5 173.1h0M984.6 221.3h0M962.2 182.6h0M1003.3 180.8h0M969.5 208.9h0M952.5 182.6h0M960.4 213.1h0M986.0 216.9h0M999.8 200.8h0M1000.7 224.1h0M1008.5 183.6h0M988.5 216.4h0M962.1 192.4h0M1006.8 194.8h0M975.3 185.0h0M1002.7 189.6h0M987.2 215.1h0M996.4 175.9h0M960.4 173.6h0M1001.7 200.0h0M985.6 178.6h0M967.4 195.3h0M968.2 205.2h0M983.8 199.9h0M962.3 210.8h0M981.7 184.5h0M975.7 208.7h0M959.4 194.2h0M974.3 186.1h0M982.9 213.0h0M1009.8 200.1h0M1009.9 178.9h0M977.7 222.6h0M968.4 207.2h0M955.0 190.0h0M969.6 216.1h0M985.3 217.1h0M1008.6 218.3h0M976.9 218.3h0M981.3 209.7h0M973.0 201.4h0M998.4 189.3h0M1005.7 203.2h0M984.0 190.2h0M1004.4 217.0h0M967.0 174.4h0M990.0 206.0h0M974.0 219.5h0M960.8 191.5h0M981.5 195.2h0M995.8 177.9h0M975.9 172.7h0M953.8 200.2h0M992.2 176.9h0M989.1 218.8h0M1007.4 191.1h0M1001.1 191.3h0M959.6 210.4h0M996.5 214.5h0M985.0 218.7h0M990.2 213.0h0M994.5 222.8h0M970.6 172.6h0M972.9 213.5h0M979.5 211.9h0M994.2 206.3h0M1009.6 189.4h0M1005.8 182.1h0M968.5 181.2h0M1009.1 207.2h0M997.7 186.8h0M997.2 218.3h0M986.8 175.1h0M1008.8 214.9h0M994.8 180.2h0M991.0 186.6h0M994.7 202.7h0M965.0 186.5h0M984.9 223.0h0M1007.3 197.0h0M1005.4 180.6h0M980.1 178.9h0M989.0 210.3h0M968.5 223.6h0M953.5 205.1h0M995.9 178.0h0M998.8 195.5h0M960.6 176.3h0M1005.2 212.6h0M961.9 199.6h0M980.5 213.6h0M980.9 204.0h0M975.2 173.4h0M974.3 186.6h0M983.0 208.2h0M970.0 216.9h0M968.3 181.2h0M958.4 207.1h0M1008.7 188.7h0M960.6 189.5h0M982.3 172.2h0M991.7 242.1h0M976.3 248.8h0M966.7 246.5h0M993.1 226.5h0M963.1 226.1h0M972.7 236.7h0M991.7 248.5h0M966.7 249.4h0M979.9 237.8h0M996.5 236.6h0M964.1 225.2h0M978.4 251.8h0M970.0 231.0h0M957.6 226.3h0M971.0 231.4h0M963.1 229.7h0M963.1 255.2h0M980.5 232.1h0M978.0 245.8h0M956.8 249.8h0M964.0 245.5h0M989.6 245.7h0M976.2 240.2h0M975.8 231.2h0M959.9 238.4h0M975.4 251.2h0M999.8 245.1h0M964.1 227.8h0M970.0 231.5h0M959.9 256.1h0M966.0 243.1h0M969.5 249.9h0M983.7 225.7h0M976.6 251.9h0M992.1 248.1h0M957.9 252.7h0M978.3 232.0h0M958.5 241.4h0M981.0 243.8h0M972.5 230.9h0M970.1 237.9h0M982.5 225.4h0M972.3 251.9h0M969.5 232.5h0M984.7 242.8h0M982.6 230.3h0M983.5 249.0h0M988.6 246.1h0M957.0 249.7h0M981.7 231.8h0M961.4 252.5h0M987.4 236.3h0M961.4 256.1h0M982.2 231.4h0M963.5 233.5h0M955.1 234.4h0M968.3 232.4h0M1014.8 253.9h0M1018.6 252.3h0M995.6 246.1h0M1038.7 263.0h0M1028.0 264.2h0M994.6 286.8h0M993.2 279.5h0M1027.6 287.0h0M1036.0 273.4h0M1000.2 253.2h0M1014.3 295.4h0M1008.7 281.8h0M1019.0 248.2h0M1010.1 278.6h0M1026.7 281.2h0M1015.5 260.8h0M997.3 269.8h0M991.3 261.6h0M1035.1 260.1h0M1004.5 250.1h0M1035.7 267.5h0M1030.3 274.9h0M1038.5 295.9h0M1006.3 262.6h0M1007.0 271.3h0M1035.6 259.7h0M1011.3 288.9h0M1004.1 275.2h0M1034.7 297.1h0M1020.5 279.2h0M1033.7 267.4h0M991.4 268.6h0M996.8 251.5h0M1005.9 287.3h0M1031.0 258.5h0M1018.7 293.7h0M1033.7 258.3h0M1030.3 273.2h0M1014.2 257.6h0M992.5 282.4h0M998.9 289.9h0M1025.9 271.9h0M1011.8 258.2h0M1000.8 298.2h0M1032.9 247.2h0M1002.8 251.4h0M1007.6 299.2h0M1025.3 260.8h0M1014.0 251.5h0M1026.3 276.7h0M1018.0 273.7h0M1039.3 257.9h0M997.6 298.7h0M1002.3 295.6h0M1013.8 284.7h0M1010.9 272.1h0M1021.9 262.0h0M1033.0 257.0h0M1020.0 293.7h0M1027.9 286.1h0M1001.5 259.2h0M1024.7 294.7h0M1013.7 281.4h0M1021.7 266.0h0M998.5 298.4h0M1025.5 259.2h0M997.3 257.9h0M1022.0 276.6h0M1009.6 299.7h0M996.7 261.7h0M1032.2 270.6h0M1029.7 283.8h0M1018.7 268.9h0M1029.7 269.0h0M1006.7 249.1h0M1038.3 259.0h0M994.6 286.2h0M1007.4 279.8h0M1039.8 266.5h0M999.8 296.4h0M1013.8 230.9h0M1002.4 240.6h0M1005.6 239.2h0M1016.6 233.9h0M1007.5 240.2h0M1019.7 235.7h0M1019.8 233.5h0M1017.5 244.2h0M1012.5 242.6h0M1019.8 242.8h0" stroke="#0a63a8" stroke-width="5.9" stroke-linecap="round" fill="none"/></g>
<line x1="858.5" x2="1119.5" y1="111.5" y2="111.5" stroke="#ff0000" stroke-width="4.6" stroke-dasharray="21 16.6"/>
<line x1="858.5" x2="1119.5" y1="229.6" y2="229.6" stroke="#000" stroke-width="4.6" stroke-dasharray="21 16.6"/>
<line x1="858.5" x2="1119.5" y1="347.8" y2="347.8" stroke="#ff0000" stroke-width="4.6" stroke-dasharray="21 16.6"/>
<text class="a" x="1020.4" y="87.0" fill="#ff0000">31.56</text>
<text class="a" x="1054.6" y="186.5" fill="#000">1.07</text>
<text class="a" x="858.0" y="403.3" fill="#ff0000">-29.42</text>
<rect x="858.5" y="40.0" width="261.0" height="387.5" fill="none" stroke="#3a3a3a" stroke-width="1.9"/>
<path d="M891.1 427.5v-3.6M891.1 40.0v3.6M972.7 427.5v-3.6M972.7 40.0v3.6M1054.2 427.5v-3.6M1054.2 40.0v3.6M858.5 40.0h3.6M1119.5 40.0h-3.6M858.5 233.8h3.6M1119.5 233.8h-3.6M858.5 427.5h3.6M1119.5 427.5h-3.6" stroke="#222" stroke-width="1.9" fill="none"/>
<text class="s" x="891.1" y="470.0" font-size="32" text-anchor="middle">100</text>
<text class="s" x="972.7" y="470.0" font-size="32" text-anchor="middle">125</text>
<text class="s" x="1054.2" y="470.0" font-size="32" text-anchor="middle">150</text>
<text class="s" x="848.3" y="51.5" font-size="32" text-anchor="end">50</text>
<text class="s" x="848.3" y="246.2" font-size="32" text-anchor="end">0</text>
<text class="s" x="848.3" y="441.0" font-size="32" text-anchor="end">-50</text>
<text class="s" x="989.0" y="26.5" font-size="35" text-anchor="middle" style="fill:#000">O-II</text>
<text class="s" transform="translate(788.8,234.8) rotate(-90)" x="0" y="0" font-size="35" text-anchor="middle">TestSBP-RefSBP(mmHg)</text>
<clipPath id="cb1"><rect x="97.5" y="580.0" width="262.5" height="387.5"/></clipPath>
<g clip-path="url(#cb1)"><path filter="url(#bl)" d="M197.2 632.9h0M208.2 642.2h0M153.3 660.8h0M182.7 655.3h0M189.4 653.4h0M199.9 664.5h0M208.4 666.9h0M206.3 672.4h0M183.7 681.8h0M227.4 678.5h0M221.3 683.4h0M185.2 690.2h0M186.4 692.6h0M188.2 695.1h0M193.7 690.8h0M198.6 689.6h0M201.1 692.6h0M203.5 695.1h0M209.0 690.8h0M211.5 698.1h0M220.7 698.1h0M220.1 702.4h0M222.5 706.1h0M174.1 694.5h0M177.2 698.1h0M180.3 699.4h0M182.7 700.6h0M163.1 698.1h0M168.0 698.1h0M152.1 704.2h0M165.6 705.5h0M190.7 703.0h0M199.9 702.4h0M203.5 708.5h0M197.4 709.1h0M209.0 704.9h0M160.7 709.1h0M261.4 626.3h0M235.7 632.4h0M244.3 647.1h0M319.0 677.7h0M229.6 679.2h0M232.7 704.9h0M232.1 708.5h0M247.4 703.0h0M245.5 707.3h0M257.8 700.0h0M256.5 705.5h0M260.8 706.1h0M284.7 705.5h0M132.5 717.3h0M138.0 729.0h0M143.5 724.7h0M146.0 727.1h0M147.2 732.0h0M149.7 735.7h0M152.1 739.4h0M153.3 741.8h0M136.2 745.5h0M138.6 751.6h0M142.3 754.1h0M146.0 755.3h0M149.7 759.0h0M150.9 761.4h0M154.5 719.8h0M158.2 722.2h0M159.4 732.0h0M155.8 733.3h0M158.2 712.4h0M163.1 712.4h0M168.0 712.4h0M140.5 785.9h0M149.7 787.7h0M158.8 775.5h0M168.0 776.1h0M164.3 783.4h0M163.7 787.1h0M163.1 794.5h0M165.6 795.1h0M164.3 812.8h0M166.2 820.8h0M168.6 827.5h0M181.5 831.2h0M182.7 816.5h0M190.1 821.4h0M191.9 828.1h0M247.4 716.1h0M260.8 718.6h0M271.2 717.3h0M248.6 723.5h0M251.0 726.5h0M253.5 728.4h0M260.2 733.3h0M268.2 738.2h0M244.9 735.7h0M248.6 736.3h0M252.3 741.8h0M246.1 746.7h0M243.7 751.6h0M241.2 756.5h0M257.2 755.3h0M255.3 759.6h0M263.3 749.8h0M269.4 747.3h0M267.0 755.3h0M278.0 749.8h0M284.7 744.9h0M274.3 760.8h0M246.1 761.4h0M248.6 764.5h0M241.9 769.4h0M319.6 766.1h0M243.7 778.6h0M256.5 782.2h0M265.7 776.1h0M268.2 777.9h0M274.3 784.7h0M280.4 782.2h0M285.3 778.6h0M282.9 787.1h0M292.7 787.1h0M300.0 779.8h0M303.7 784.7h0M285.3 794.5h0M303.7 797.5h0M261.4 794.5h0M248.0 792.0h0M251.0 798.1h0M244.9 800.6h0M273.7 800.6h0M277.4 803.6h0M278.0 806.7h0M319.6 805.5h0M328.8 806.7h0M331.8 812.8h0M270.0 810.4h0M278.6 814.7h0M293.9 811.6h0M286.5 816.5h0M285.3 820.2h0M270.6 821.4h0M278.0 827.5h0M282.9 827.5h0M314.7 833.6h0M302.5 839.1h0M262.0 835.5h0M265.7 834.2h0M254.7 812.8h0M251.0 816.5h0M247.4 820.2h0M246.1 825.1h0M248.6 830.0h0M244.9 838.5h0M233.9 833.6h0M232.1 837.3h0M173.5 840.4h0M186.4 842.9h0M211.5 840.4h0M217.6 838.0h0M224.3 844.7h0M228.0 858.2h0M210.9 867.4h0M215.2 868.0h0M204.1 872.9h0M220.1 933.5h0M231.4 839.2h0M244.9 839.8h0M247.4 847.8h0M252.9 843.5h0M255.9 845.3h0M258.4 847.2h0M261.4 848.4h0M235.7 853.3h0M229.6 858.2h0M231.4 864.9h0M243.1 857.6h0M252.3 857.6h0M257.2 859.4h0M244.9 866.2h0M268.2 854.5h0M281.6 844.1h0M301.8 840.7h0M316.5 840.4h0M325.7 842.7h0M284.7 862.5h0M285.9 871.7h0M270.6 874.1h0M282.3 880.8h0M298.2 877.8h0M304.9 872.0h0M348.4 870.8h0M253.5 880.8h0M262.1 882.1h0M260.2 890.4h0M329.4 896.8h0M265.1 927.4h0M238.2 950.0h0M298.8 952.5h0M349.0 946.3h0M179.2 725.0h0M218.9 721.3h0M216.5 722.1h0M174.9 720.7h0M205.0 720.4h0M189.7 721.8h0M175.0 719.4h0M169.0 726.2h0M224.3 722.5h0M206.7 724.6h0M227.6 724.4h0M186.5 713.8h0M198.1 724.9h0M225.3 720.9h0M208.2 723.6h0M176.2 714.0h0M205.5 720.1h0M220.0 723.9h0M172.0 720.8h0M175.2 720.0h0M215.4 720.1h0M170.1 722.8h0M187.9 736.1h0M189.0 757.4h0M198.6 749.1h0M195.4 740.3h0M178.8 754.2h0M200.5 761.8h0M169.9 772.5h0M187.2 760.4h0M171.3 773.5h0M191.1 753.3h0M192.9 749.6h0M204.9 768.7h0M191.5 759.7h0M168.3 740.6h0M173.9 732.1h0M203.7 771.1h0M182.2 736.5h0M170.6 762.0h0M203.8 741.0h0M175.5 729.6h0M173.2 767.6h0M205.5 745.6h0M167.4 773.4h0M187.7 765.2h0M171.5 773.4h0M175.7 734.9h0M203.1 769.0h0M178.5 769.4h0M168.1 729.8h0M188.9 746.6h0M186.4 770.7h0M173.1 748.7h0M167.9 742.6h0M204.0 731.1h0M181.1 770.6h0M175.0 733.5h0M204.3 758.5h0M179.4 737.2h0M179.2 743.7h0M168.6 731.3h0M169.9 758.7h0M188.7 759.8h0M190.1 763.7h0M174.8 731.2h0M176.5 741.8h0M196.1 752.7h0M205.2 747.2h0M200.6 774.2h0M179.2 762.3h0M167.5 733.5h0M174.8 745.0h0M192.8 740.6h0M185.6 763.4h0M187.8 746.2h0M181.5 731.2h0M172.8 774.1h0M170.0 733.1h0M174.8 772.0h0M189.0 770.1h0M190.6 766.4h0M206.1 736.0h0M170.3 769.4h0M183.9 746.3h0M170.2 751.6h0M196.9 750.7h0M194.3 748.1h0M190.1 758.1h0M183.8 770.1h0M183.3 755.5h0M190.8 760.0h0M171.7 733.7h0M183.5 738.3h0M206.8 753.2h0M177.5 775.4h0M188.1 739.7h0M192.9 774.1h0M219.7 786.4h0M228.3 793.7h0M207.6 776.6h0M219.8 763.2h0M228.7 725.2h0M228.1 777.8h0M218.4 782.6h0M223.6 785.6h0M223.9 793.0h0M225.6 770.0h0M222.2 780.9h0M210.0 749.0h0M228.6 742.8h0M216.5 791.9h0M221.1 770.2h0M216.4 725.1h0M218.6 769.7h0M214.4 776.7h0M223.6 794.6h0M213.5 780.3h0M225.9 731.8h0M228.3 748.2h0M227.9 737.9h0M212.4 757.2h0M208.3 789.4h0M213.3 771.0h0M211.4 748.8h0M212.2 768.3h0M224.1 773.8h0M218.3 727.6h0M219.9 791.0h0M225.6 735.3h0M219.2 784.1h0M218.9 781.6h0M210.6 739.2h0M207.5 752.5h0M217.8 731.1h0M219.3 777.9h0M213.7 794.6h0M216.8 745.7h0M220.5 774.4h0M223.7 754.8h0M224.2 747.0h0M210.7 773.5h0M225.6 793.3h0M221.9 733.6h0M220.5 757.4h0M218.4 729.1h0M211.8 767.2h0M208.2 778.0h0M208.9 741.9h0M209.5 774.7h0M212.0 761.3h0M218.3 783.2h0M216.2 775.2h0M223.5 762.9h0M213.7 754.9h0M227.6 723.0h0M215.9 777.8h0M219.4 768.1h0M226.2 786.7h0M209.4 790.3h0M219.7 738.4h0M223.6 724.0h0M205.7 797.5h0M185.2 797.5h0M200.1 802.3h0M185.3 786.7h0M185.3 800.0h0M170.2 797.8h0M170.5 780.2h0M199.9 778.7h0M194.6 795.3h0M198.4 779.8h0M204.3 782.9h0M194.8 788.8h0M176.3 801.7h0M190.9 789.7h0M181.3 789.8h0M173.3 789.4h0M185.1 794.8h0M206.0 805.1h0M198.1 790.4h0M186.3 794.7h0M187.6 800.0h0M196.6 807.8h0M197.8 790.3h0M192.2 811.2h0M179.4 785.7h0M184.1 794.6h0M172.8 809.7h0M172.4 802.3h0M176.7 812.0h0M184.5 789.5h0M205.9 781.0h0M185.6 790.7h0M170.8 778.0h0M210.2 838.9h0M210.4 814.2h0M223.2 796.1h0M226.2 831.1h0M210.4 831.2h0M209.6 836.1h0M223.7 839.9h0M226.4 817.4h0M223.3 818.8h0M213.2 826.3h0M209.8 813.9h0M227.6 820.8h0M227.0 816.3h0M216.0 828.0h0M211.3 806.0h0M228.2 835.6h0M209.9 831.8h0M216.0 838.4h0M220.6 802.7h0M221.4 799.9h0M213.1 807.1h0M239.1 800.6h0M230.1 786.9h0M230.9 803.6h0M236.1 810.3h0M235.9 809.7h0M235.0 802.0h0M241.3 735.5h0M244.0 802.5h0M229.4 794.7h0M239.3 816.0h0M242.5 783.5h0M238.1 801.4h0M229.9 737.0h0M238.4 775.8h0M233.4 757.4h0M243.4 817.0h0M241.4 780.0h0M242.9 738.9h0M236.9 745.0h0M237.0 745.0h0M243.6 761.2h0M229.7 793.2h0M237.9 770.1h0M238.1 816.3h0M243.3 801.4h0M234.6 790.8h0M240.7 750.4h0M240.7 734.6h0M243.6 752.3h0M236.7 775.5h0M232.9 729.0h0M236.1 770.7h0M242.2 743.4h0M232.1 810.9h0M236.0 752.7h0M233.5 773.4h0M232.2 766.9h0M238.4 741.4h0M242.9 753.5h0M241.4 783.1h0M232.8 789.6h0M229.2 780.8h0M235.4 790.1h0M239.3 796.2h0M239.6 772.4h0M237.3 749.2h0M236.5 772.2h0M230.1 757.3h0M242.0 783.4h0M231.0 779.6h0M238.9 812.8h0M241.4 785.0h0M232.7 774.6h0M239.7 791.8h0M234.7 733.4h0M240.2 788.2h0M235.9 809.0h0M230.5 751.7h0M235.3 790.5h0M235.6 806.0h0M233.3 782.1h0M236.8 785.3h0M235.9 813.9h0M237.9 716.4h0M236.8 711.5h0M230.5 723.4h0M231.5 723.5h0" stroke="#0a63a8" stroke-width="5.9" stroke-linecap="round" fill="none"/></g>
<line x1="97.5" x2="360.0" y1="658.9" y2="658.9" stroke="#ff0000" stroke-width="4.6" stroke-dasharray="21 16.6"/>
<line x1="97.5" x2="360.0" y1="771.6" y2="771.6" stroke="#000" stroke-width="4.6" stroke-dasharray="21 16.6"/>
<line x1="97.5" x2="360.0" y1="884.4" y2="884.4" stroke="#ff0000" stroke-width="4.6" stroke-dasharray="21 16.6"/>
<text class="a" x="265.0" y="639.0" fill="#ff0000">17.79</text>
<text class="a" x="282.9" y="738.5" fill="#000">0.33</text>
<text class="a" x="97.0" y="930.5" fill="#ff0000">-17.13</text>
<rect x="97.5" y="580.0" width="262.5" height="387.5" fill="none" stroke="#3a3a3a" stroke-width="1.9"/>
<path d="M97.5 967.5v-3.6M97.5 580.0v3.6M336.1 967.5v-3.6M336.1 580.0v3.6M97.5 580.0h3.6M360.0 580.0h-3.6M97.5 644.6h3.6M360.0 644.6h-3.6M97.5 709.2h3.6M360.0 709.2h-3.6M97.5 773.8h3.6M360.0 773.8h-3.6M97.5 838.3h3.6M360.0 838.3h-3.6M97.5 902.9h3.6M360.0 902.9h-3.6M97.5 967.5h3.6M360.0 967.5h-3.6" stroke="#222" stroke-width="1.9" fill="none"/>
<text class="s" x="97.5" y="1010.0" font-size="32" text-anchor="middle">50</text>
<text class="s" x="338.6" y="1010.0" font-size="32" text-anchor="middle">100</text>
<text class="s" x="87.3" y="591.5" font-size="32" text-anchor="end">30</text>
<text class="s" x="87.3" y="656.4" font-size="32" text-anchor="end">20</text>
<text class="s" x="87.3" y="721.3" font-size="32" text-anchor="end">10</text>
<text class="s" x="87.3" y="786.2" font-size="32" text-anchor="end">0</text>
<text class="s" x="87.3" y="851.2" font-size="32" text-anchor="end">-10</text>
<text class="s" x="87.3" y="916.1" font-size="32" text-anchor="end">-20</text>
<text class="s" x="87.3" y="981.0" font-size="32" text-anchor="end">-30</text>
<text class="s" x="228.8" y="566.5" font-size="35" text-anchor="middle" style="fill:#000">Y</text>
<text class="s" transform="translate(27.8,774.8) rotate(-90)" x="0" y="0" font-size="35" text-anchor="middle">TestDBP-RefDBP(mmHg)</text>
<clipPath id="cb2"><rect x="479.0" y="580.0" width="260.5" height="387.5"/></clipPath>
<g clip-path="url(#cb2)"><path filter="url(#bl)" d="M526.1 591.3h0M576.9 621.0h0M584.0 614.9h0M606.3 618.2h0M498.6 640.0h0M545.7 641.5h0M567.1 647.9h0M584.9 651.6h0M498.6 652.8h0M502.3 654.1h0M505.3 656.5h0M506.5 658.3h0M505.3 661.4h0M491.9 657.7h0M481.4 663.9h0M517.6 653.2h0M541.4 653.4h0M551.5 651.6h0M559.8 654.9h0M573.9 655.3h0M537.8 664.5h0M547.6 662.3h0M545.7 666.9h0M550.0 670.6h0M553.7 671.2h0M551.2 676.7h0M534.7 671.6h0M494.3 677.9h0M491.9 684.0h0M488.8 693.8h0M580.0 677.3h0M606.9 678.5h0M560.4 679.8h0M554.3 683.4h0M531.0 681.6h0M540.2 679.2h0M543.9 681.6h0M509.0 689.0h0M518.8 689.0h0M643.9 580.6h0M630.4 604.2h0M658.0 633.2h0M620.0 671.8h0M609.6 679.2h0M613.9 688.3h0M613.3 690.2h0M618.8 701.2h0M643.3 709.8h0M643.3 712.4h0M623.1 716.1h0M609.6 718.6h0M651.2 728.4h0M659.2 733.3h0M616.3 732.6h0M659.2 746.1h0M613.3 753.5h0M644.5 759.6h0M648.2 761.4h0M650.6 764.5h0M655.5 770.0h0M674.5 782.0h0M656.7 779.8h0M641.4 782.2h0M645.7 781.0h0M643.3 788.3h0M644.5 784.7h0M653.1 789.6h0M650.0 796.9h0M662.9 800.6h0M652.5 803.6h0M710.0 800.6h0M682.5 813.4h0M645.7 807.9h0M650.6 817.7h0M648.2 827.5h0M647.0 830.0h0M664.1 836.7h0M637.2 817.7h0M639.6 822.6h0M635.9 826.3h0M633.5 828.7h0M638.4 832.4h0M501.6 839.8h0M523.1 838.0h0M532.9 838.6h0M536.5 839.2h0M540.2 840.4h0M539.0 838.0h0M549.4 840.4h0M542.7 846.0h0M546.9 847.2h0M567.7 840.4h0M568.4 842.3h0M590.4 842.3h0M594.1 843.5h0M595.3 846.0h0M597.1 841.1h0M602.6 839.2h0M603.9 846.6h0M602.6 849.6h0M578.8 850.2h0M504.1 858.8h0M543.3 856.1h0M531.6 861.5h0M562.2 854.5h0M561.0 857.6h0M580.0 859.8h0M590.4 855.7h0M599.6 857.0h0M602.0 863.7h0M515.7 867.1h0M554.3 864.3h0M556.1 872.3h0M554.3 876.6h0M564.7 874.5h0M582.8 877.8h0M606.9 874.7h0M603.9 885.1h0M512.1 888.8h0M578.8 889.4h0M528.0 897.4h0M540.8 901.9h0M603.9 896.1h0M521.2 915.4h0M569.3 914.5h0M606.3 917.6h0M521.0 930.1h0M611.4 840.4h0M614.5 842.9h0M622.5 838.0h0M626.1 839.2h0M634.7 839.8h0M639.6 838.0h0M663.5 839.2h0M612.1 849.6h0M627.4 847.2h0M630.4 849.6h0M632.9 852.1h0M634.7 853.9h0M637.2 845.3h0M640.8 844.7h0M640.2 849.0h0M642.7 845.3h0M651.2 847.2h0M658.6 851.5h0M619.4 854.5h0M622.5 855.7h0M624.9 857.6h0M628.0 858.2h0M613.3 859.4h0M641.4 859.4h0M647.0 856.4h0M651.2 860.0h0M648.8 866.2h0M670.2 859.8h0M703.3 859.8h0M621.2 863.7h0M622.5 871.1h0M626.1 871.7h0M629.2 871.1h0M633.5 868.6h0M610.8 875.9h0M620.6 878.2h0M640.8 875.3h0M645.7 874.1h0M654.3 877.8h0M669.0 874.7h0M632.3 885.7h0M624.9 891.3h0M629.8 892.5h0M650.6 887.6h0M647.0 897.4h0M645.1 901.0h0M630.8 902.3h0M643.9 917.3h0M627.1 925.5h0M656.7 935.7h0M643.0 940.0h0M668.1 955.8h0M642.4 961.6h0M488.7 733.4h0M479.2 722.5h0M494.5 717.4h0M492.0 716.8h0M505.2 733.0h0M506.2 739.2h0M503.1 739.6h0M504.8 718.0h0M507.1 738.1h0M500.5 730.1h0M502.7 724.7h0M509.1 735.6h0M497.6 712.7h0M501.3 716.1h0M501.1 736.7h0M498.1 736.0h0M497.5 734.5h0M498.7 729.2h0M502.8 718.9h0M523.7 721.5h0M517.8 710.7h0M512.3 716.6h0M525.8 711.0h0M540.7 727.2h0M533.0 728.2h0M517.2 736.2h0M526.0 728.1h0M527.7 740.8h0M521.8 719.0h0M524.2 717.6h0M538.3 718.1h0M519.1 730.5h0M515.8 719.7h0M533.9 734.6h0M520.5 731.3h0M527.7 723.2h0M539.8 728.3h0M527.3 729.8h0M542.3 725.1h0M536.0 721.4h0M543.2 712.6h0M530.4 715.9h0M524.4 725.9h0M519.2 738.7h0M536.6 722.5h0M514.4 732.2h0M531.8 731.7h0M513.4 722.4h0M521.6 735.4h0M540.9 724.2h0M538.0 711.5h0M526.6 722.4h0M533.8 725.1h0M520.3 736.5h0M535.9 717.1h0M534.0 719.0h0M527.2 730.1h0M521.2 733.1h0M534.0 728.9h0M530.7 737.9h0M536.1 718.1h0M523.6 715.0h0M511.6 725.3h0M521.1 736.6h0M515.8 733.5h0M541.4 717.1h0M511.6 710.0h0M524.9 738.3h0M528.4 738.3h0M536.8 729.4h0M519.8 717.2h0M569.2 722.4h0M545.7 724.8h0M574.4 725.5h0M554.1 721.1h0M569.4 737.1h0M572.2 736.2h0M575.8 733.8h0M575.8 725.5h0M550.2 727.0h0M551.1 725.1h0M573.3 732.9h0M568.4 730.6h0M570.6 737.6h0M568.1 736.7h0M558.0 711.4h0M573.6 710.7h0M560.2 711.0h0M573.5 721.4h0M564.1 741.1h0M569.3 711.5h0M574.5 712.2h0M556.5 711.8h0M565.2 723.7h0M575.9 712.0h0M565.4 736.7h0M574.6 733.3h0M566.6 719.6h0M566.8 717.6h0M574.3 727.6h0M564.3 733.5h0M548.6 711.7h0M549.1 740.5h0M572.6 740.3h0M544.3 711.3h0M572.0 723.7h0M560.6 740.4h0M570.2 723.4h0M550.0 713.0h0M571.2 729.3h0M551.2 729.9h0M571.5 716.6h0M571.2 733.2h0M572.4 742.2h0M561.7 731.5h0M562.3 726.8h0M571.9 732.7h0M555.7 727.8h0M550.8 714.0h0M574.7 720.3h0M571.3 724.9h0M569.0 721.7h0M553.5 717.1h0M561.2 737.7h0M558.7 716.1h0M575.6 737.7h0M553.1 722.4h0M565.1 734.8h0M562.0 735.0h0M600.2 729.3h0M608.4 732.5h0M592.4 737.2h0M585.9 727.5h0M590.2 732.0h0M599.8 718.8h0M585.2 727.9h0M588.3 738.7h0M585.9 712.3h0M593.3 726.9h0M579.3 721.5h0M590.5 712.1h0M607.1 722.7h0M591.8 732.7h0M604.9 739.1h0M577.5 714.6h0M590.6 718.4h0M602.3 710.9h0M586.1 730.7h0M603.8 715.5h0M587.7 722.6h0M593.2 726.3h0M600.0 713.5h0M586.3 735.3h0M594.8 717.6h0M599.6 731.5h0M581.5 728.8h0M596.0 734.9h0M580.8 740.7h0M599.7 720.0h0M603.4 730.3h0M601.7 729.5h0M607.6 739.3h0M605.2 715.0h0M578.8 718.6h0M599.4 723.4h0M585.1 725.7h0M581.1 736.8h0M596.5 720.0h0M585.0 723.6h0M594.2 728.5h0M593.7 713.7h0M606.1 728.7h0M580.7 722.5h0M602.1 737.6h0M604.0 719.3h0M589.1 714.7h0M594.5 721.2h0M593.0 713.6h0M589.9 730.2h0M581.3 715.4h0M601.1 713.0h0M592.4 733.5h0M600.7 739.2h0M600.6 733.7h0M591.2 716.0h0M607.1 741.8h0M598.6 711.2h0M511.1 766.8h0M489.4 750.8h0M482.4 774.5h0M507.5 745.3h0M508.6 772.9h0M507.7 771.9h0M509.2 746.6h0M493.1 759.4h0M497.9 750.9h0M482.7 745.3h0M479.7 760.2h0M502.2 748.2h0M522.8 750.8h0M512.9 761.2h0M511.9 769.3h0M532.4 746.7h0M524.6 746.0h0M513.8 760.7h0M542.9 748.7h0M513.3 748.6h0M513.2 762.5h0M511.9 747.0h0M524.3 767.5h0M534.7 750.9h0M513.4 764.1h0M511.7 758.2h0M526.1 772.6h0M529.1 743.4h0M514.4 759.3h0M525.2 747.7h0M520.8 746.6h0M515.0 771.8h0M542.6 742.5h0M537.0 760.0h0M537.6 747.7h0M529.2 759.6h0M527.0 761.2h0M537.7 769.4h0M520.6 761.8h0M522.5 760.3h0M536.1 752.4h0M517.2 761.3h0M521.5 774.9h0M518.4 769.9h0M535.3 742.5h0M519.1 761.7h0M512.1 764.2h0M542.3 756.1h0M513.6 774.4h0M524.9 751.9h0M539.4 773.3h0M537.0 771.5h0M537.7 749.3h0M529.4 750.8h0M568.0 754.9h0M570.3 746.8h0M575.0 770.5h0M564.9 760.6h0M572.4 749.7h0M568.8 774.9h0M575.7 763.6h0M557.6 769.0h0M572.9 766.1h0M564.2 772.4h0M565.5 770.3h0M554.0 746.7h0M563.8 757.8h0M553.2 752.5h0M548.4 742.7h0M548.7 744.3h0M545.7 768.3h0M575.3 764.3h0M548.6 755.4h0M566.9 754.8h0M561.0 762.9h0M569.3 773.3h0M574.1 752.7h0M575.8 752.4h0M549.8 752.3h0M570.5 769.9h0M576.3 759.8h0M549.4 760.3h0M546.8 755.0h0M546.1 755.6h0M556.5 754.3h0M552.9 749.7h0M547.9 761.0h0M565.5 758.1h0M572.7 756.3h0M553.6 755.1h0M546.9 761.4h0M546.8 761.0h0M569.3 761.2h0M574.1 751.9h0M544.7 760.0h0M567.1 766.7h0M572.7 767.1h0M551.7 744.2h0M544.6 747.1h0M545.8 751.5h0M559.1 746.7h0M561.4 752.6h0M563.2 745.1h0M561.1 758.0h0M567.1 753.6h0M569.2 764.8h0M556.0 744.6h0M558.0 755.2h0M565.0 753.1h0M567.5 769.8h0M556.1 763.4h0M551.8 773.6h0M548.2 770.2h0M555.5 754.0h0M547.3 743.5h0M566.4 751.5h0M551.5 769.2h0M594.1 770.8h0M605.4 763.7h0M597.8 753.3h0M587.4 757.6h0M576.7 758.4h0M602.9 755.6h0M584.0 771.9h0M587.8 749.0h0M606.2 744.6h0M587.9 761.3h0M603.2 750.4h0M582.2 752.0h0M595.0 761.3h0M587.1 758.4h0M608.9 749.8h0M583.5 759.9h0M604.7 773.3h0M602.7 750.9h0M589.9 771.3h0M588.2 773.6h0M580.8 769.7h0M594.9 756.5h0M602.2 769.2h0M593.5 751.0h0M589.5 755.2h0M580.4 751.3h0M600.3 756.2h0M587.5 744.4h0M577.1 752.4h0M602.9 770.2h0M607.0 745.0h0M606.8 760.8h0M588.0 754.2h0M576.7 771.0h0M588.6 758.0h0M576.9 765.2h0M607.9 750.8h0M606.4 756.7h0M608.5 748.7h0M592.7 767.8h0M588.3 743.1h0M598.2 754.3h0M602.4 749.0h0M604.8 767.1h0M579.8 757.0h0M582.5 751.8h0M586.1 759.9h0M604.4 764.0h0M603.2 758.0h0M594.9 761.6h0M586.2 758.3h0M591.1 755.8h0M608.1 766.2h0M603.9 774.1h0M582.9 746.5h0M604.9 772.6h0M579.5 759.1h0M582.6 762.9h0M505.7 792.8h0M487.3 775.7h0M505.3 780.1h0M486.5 790.3h0M503.3 791.0h0M498.3 787.5h0M495.8 790.7h0M495.4 779.4h0M482.6 780.4h0M507.7 787.5h0M479.9 796.2h0M492.6 801.5h0M543.8 797.6h0M512.9 804.6h0M530.5 791.1h0M528.5 782.9h0M534.6 779.7h0M531.6 783.3h0M513.8 805.8h0M531.4 777.6h0M527.5 803.4h0M522.1 785.2h0M521.4 779.6h0M525.5 799.4h0M514.0 800.6h0M532.9 806.3h0M531.5 796.5h0M537.5 777.3h0M536.8 795.3h0M523.8 775.8h0M529.0 806.1h0M538.3 776.9h0M539.8 787.0h0M532.5 803.1h0M532.1 784.2h0M529.2 796.8h0M541.9 786.7h0M517.9 786.8h0M532.1 784.2h0M570.1 783.0h0M565.6 791.5h0M575.7 799.9h0M568.6 775.9h0M554.8 787.7h0M570.6 788.8h0M551.5 789.9h0M554.5 792.4h0M544.3 788.8h0M548.1 791.6h0M553.8 785.3h0M562.7 801.1h0M548.2 798.2h0M563.1 781.0h0M576.1 804.5h0M570.3 793.1h0M552.2 800.5h0M555.3 782.7h0M561.6 778.7h0M562.8 794.2h0M566.1 801.6h0M557.4 792.5h0M549.2 801.6h0M568.2 782.0h0M564.6 781.2h0M569.2 798.5h0M574.5 797.2h0M548.2 787.6h0M566.9 800.3h0M547.7 787.2h0M556.5 796.5h0M572.3 795.8h0M544.8 793.6h0M574.0 787.1h0M545.2 790.6h0M576.0 804.1h0M556.2 801.9h0M567.0 785.7h0M569.7 797.3h0M566.9 792.2h0M566.5 787.6h0M548.8 789.5h0M558.4 800.3h0M555.7 795.7h0M578.0 781.7h0M589.7 780.1h0M598.4 793.3h0M592.7 803.3h0M581.8 805.7h0M594.2 804.3h0M579.1 803.2h0M587.7 795.6h0M589.3 778.4h0M577.1 807.4h0M583.2 797.0h0M599.0 793.3h0M605.8 783.3h0M585.8 794.8h0M593.7 800.2h0M589.8 807.2h0M601.0 776.7h0M593.5 799.2h0M602.6 807.1h0M598.2 788.5h0M578.5 778.3h0M599.5 788.5h0M580.2 779.3h0M597.1 794.1h0M585.8 795.9h0M588.1 791.6h0M585.3 804.3h0M584.0 782.2h0M578.0 797.1h0M582.9 780.2h0M580.2 782.9h0M605.5 796.0h0M608.7 790.4h0M589.6 805.2h0M593.0 794.2h0M598.5 789.0h0M579.2 806.8h0M594.9 778.7h0M591.4 802.1h0M576.5 779.8h0M591.5 777.1h0M597.5 799.7h0M591.9 775.7h0M581.0 790.0h0M603.6 805.3h0M579.3 805.4h0M604.1 776.2h0M588.4 785.8h0M607.4 777.1h0M595.1 803.9h0M586.4 776.1h0M599.9 776.4h0M578.8 789.2h0M594.7 782.8h0M604.0 793.1h0M603.1 792.8h0M597.4 797.6h0M592.1 791.8h0M503.2 831.0h0M489.4 808.6h0M492.0 821.4h0M494.6 809.0h0M486.5 811.1h0M500.0 838.1h0M495.7 819.8h0M480.8 813.3h0M517.3 826.9h0M536.2 815.4h0M534.5 819.0h0M521.3 829.0h0M531.8 835.4h0M516.0 817.5h0M513.2 838.5h0M537.7 827.5h0M541.6 832.9h0M530.2 814.1h0M528.8 838.0h0M528.5 820.4h0M536.8 829.2h0M518.1 838.9h0M520.5 821.4h0M527.0 825.8h0M539.7 832.8h0M533.4 837.5h0M518.4 832.1h0M574.5 829.2h0M574.8 829.1h0M554.1 820.5h0M569.8 832.6h0M562.1 838.5h0M553.4 814.9h0M547.5 838.5h0M551.1 822.5h0M566.9 822.4h0M563.6 830.7h0M551.3 821.5h0M574.7 816.4h0M575.3 807.5h0M561.3 814.6h0M573.0 828.0h0M547.9 835.9h0M576.4 816.4h0M573.8 836.2h0M554.9 822.4h0M563.4 818.4h0M549.6 809.2h0M559.7 814.1h0M545.1 829.5h0M564.9 823.0h0M559.4 829.1h0M545.2 835.5h0M557.7 835.1h0M546.4 810.9h0M553.9 839.8h0M563.0 831.0h0M557.9 823.2h0M547.8 831.7h0M564.9 830.7h0M569.3 837.0h0M554.4 827.9h0M547.1 823.7h0M605.4 822.4h0M607.5 838.0h0M591.7 808.7h0M587.8 818.7h0M587.6 810.9h0M584.7 821.8h0M600.1 835.5h0M581.2 830.8h0M589.9 813.2h0M586.6 824.2h0M581.7 809.3h0M579.3 817.4h0M598.1 837.2h0M590.8 808.5h0M580.5 811.5h0M585.7 816.0h0M586.2 831.3h0M590.9 813.9h0M588.6 809.4h0M599.2 820.1h0M578.5 829.0h0M583.7 824.0h0M594.6 820.9h0M577.8 813.1h0M606.1 830.8h0M591.3 815.2h0M576.7 824.5h0M581.8 808.4h0M600.1 832.6h0M603.0 811.9h0M581.2 809.6h0M580.7 837.0h0M598.6 820.3h0M606.6 835.6h0M598.9 827.8h0M598.3 824.8h0M600.4 823.0h0M591.7 824.5h0M601.4 831.4h0M588.1 809.0h0M589.8 832.9h0M604.4 825.5h0M589.7 809.3h0M581.9 808.5h0M597.7 834.8h0M580.7 814.8h0M596.6 837.2h0M606.6 813.9h0M594.2 814.5h0M581.4 832.6h0M597.8 837.0h0M589.4 709.2h0M553.6 704.1h0M551.0 701.1h0M551.0 708.8h0M555.3 699.6h0M579.5 703.9h0M583.9 697.0h0M592.6 700.6h0M587.1 707.5h0M535.6 693.7h0M543.0 706.6h0M564.5 706.4h0M586.0 707.8h0M570.6 691.5h0M537.7 704.7h0M584.9 690.4h0M550.3 693.1h0M532.4 705.7h0M545.2 695.5h0M560.1 703.0h0M529.1 688.4h0M539.2 690.6h0M560.3 694.3h0M542.4 694.0h0M556.2 709.2h0M586.9 690.7h0M581.3 686.7h0M595.6 706.5h0M569.8 702.4h0M566.5 689.3h0M539.5 703.5h0M549.6 693.3h0M561.8 709.1h0M545.3 705.9h0M584.8 696.0h0M583.5 702.5h0M561.4 696.8h0M561.3 690.7h0M541.4 709.1h0M553.6 700.4h0M540.7 705.0h0M550.5 691.4h0M566.4 692.1h0M586.8 690.7h0M529.4 692.6h0M594.2 701.1h0M531.5 707.6h0M575.4 689.0h0M541.2 701.9h0M590.6 708.4h0M553.3 700.3h0M571.0 705.4h0M569.8 689.9h0M529.0 686.9h0M530.3 700.4h0M555.9 689.2h0M529.6 709.5h0M545.0 692.2h0M560.1 686.3h0M575.9 697.1h0M584.8 704.9h0M572.4 688.5h0M589.1 698.7h0M570.8 688.2h0M525.8 703.5h0M520.2 698.9h0M515.5 709.1h0M508.8 696.2h0M519.8 701.6h0M511.8 703.7h0M507.5 703.5h0M511.4 703.8h0M527.2 700.1h0M514.8 708.1h0M520.8 708.5h0M508.9 696.1h0M526.5 707.6h0M499.3 694.0h0M520.6 698.4h0M607.5 704.9h0M596.7 706.9h0M601.4 709.3h0M601.8 698.0h0M608.9 692.6h0M622.1 759.9h0M627.1 751.1h0M632.6 748.7h0M623.5 733.7h0M636.3 753.2h0M622.1 735.6h0M630.9 750.7h0M624.9 750.7h0M633.0 748.2h0M626.0 749.2h0M626.9 733.9h0M631.0 747.2h0M632.5 750.0h0M635.8 745.9h0M619.3 731.7h0M630.6 734.6h0M621.1 742.6h0M628.7 754.6h0M630.9 750.3h0M637.2 742.3h0M634.5 737.0h0M621.7 754.9h0M621.5 759.5h0M622.1 741.9h0M629.8 749.4h0M625.0 828.9h0M619.5 829.7h0M628.4 778.8h0M618.2 822.9h0M612.6 775.4h0M629.2 772.9h0M622.6 833.5h0M626.9 761.9h0M616.8 813.9h0M611.4 768.8h0M612.3 763.7h0M615.8 804.3h0M627.5 819.8h0M614.7 835.9h0M614.3 826.4h0M625.7 812.6h0M619.7 775.0h0M620.2 775.6h0M612.0 823.0h0M610.0 811.7h0M624.2 813.4h0M619.0 834.9h0M615.2 793.3h0M621.3 764.0h0M614.3 817.0h0M626.4 825.5h0M622.3 839.7h0M619.2 793.5h0M613.0 836.8h0M627.2 800.6h0M623.3 833.3h0M613.5 788.4h0M613.7 766.5h0M610.3 819.4h0M622.7 817.8h0M620.6 782.9h0M625.8 820.6h0M621.2 803.1h0M627.6 823.4h0M629.1 806.2h0M620.0 793.2h0M628.8 796.0h0M623.3 764.2h0M611.9 762.6h0M629.7 787.8h0M621.4 763.1h0M629.7 832.9h0M622.1 835.0h0M623.7 827.6h0M626.9 765.9h0M625.4 778.2h0M626.5 802.6h0M612.4 804.7h0M611.5 761.7h0M622.5 817.6h0M628.0 798.9h0M619.9 834.0h0M616.1 800.2h0M628.7 835.4h0M615.2 814.6h0M624.2 770.2h0M620.6 812.9h0M618.2 768.8h0M620.0 833.9h0M613.9 805.3h0M619.3 784.5h0M620.0 828.6h0M627.0 802.8h0M617.2 807.8h0M627.7 839.4h0M627.3 833.9h0M622.7 839.2h0M624.5 802.1h0M626.1 786.6h0M624.9 812.6h0M627.9 837.5h0M609.2 780.1h0M625.1 761.6h0M612.0 827.7h0M617.0 827.3h0M610.4 831.3h0M624.7 795.8h0M629.9 762.0h0M627.1 781.9h0M615.3 777.1h0M630.0 809.7h0M637.7 800.4h0M630.4 788.1h0M636.9 787.3h0M639.4 788.1h0M632.4 812.6h0M633.9 803.8h0M634.7 797.5h0M630.0 802.9h0M613.4 736.8h0M613.1 730.2h0M613.4 723.9h0M615.5 757.0h0M610.5 718.9h0M615.4 718.6h0M613.9 725.1h0M614.3 755.4h0M613.9 747.4h0M617.0 745.8h0" stroke="#0a63a8" stroke-width="5.9" stroke-linecap="round" fill="none"/></g>
<line x1="479.0" x2="739.5" y1="660.7" y2="660.7" stroke="#ff0000" stroke-width="4.6" stroke-dasharray="21 16.6"/>
<line x1="479.0" x2="739.5" y1="770.5" y2="770.5" stroke="#000" stroke-width="4.6" stroke-dasharray="21 16.6"/>
<line x1="479.0" x2="739.5" y1="880.3" y2="880.3" stroke="#ff0000" stroke-width="4.6" stroke-dasharray="21 16.6"/>
<text class="a" x="668.5" y="642.0" fill="#ff0000">17.5</text>
<text class="a" x="671.7" y="739.0" fill="#000">0.5</text>
<text class="a" x="478.5" y="960.5" fill="#ff0000">-16.5</text>
<rect x="479.0" y="580.0" width="260.5" height="387.5" fill="none" stroke="#3a3a3a" stroke-width="1.9"/>
<path d="M479.0 967.5v-3.6M479.0 580.0v3.6M715.8 967.5v-3.6M715.8 580.0v3.6M479.0 580.0h3.6M739.5 580.0h-3.6M479.0 644.6h3.6M739.5 644.6h-3.6M479.0 709.2h3.6M739.5 709.2h-3.6M479.0 773.8h3.6M739.5 773.8h-3.6M479.0 838.3h3.6M739.5 838.3h-3.6M479.0 902.9h3.6M739.5 902.9h-3.6M479.0 967.5h3.6M739.5 967.5h-3.6" stroke="#222" stroke-width="1.9" fill="none"/>
<text class="s" x="479.0" y="1010.0" font-size="32" text-anchor="middle">50</text>
<text class="s" x="715.8" y="1010.0" font-size="32" text-anchor="middle">100</text>
<text class="s" x="468.8" y="591.5" font-size="32" text-anchor="end">30</text>
<text class="s" x="468.8" y="656.4" font-size="32" text-anchor="end">20</text>
<text class="s" x="468.8" y="721.3" font-size="32" text-anchor="end">10</text>
<text class="s" x="468.8" y="786.2" font-size="32" text-anchor="end">0</text>
<text class="s" x="468.8" y="851.2" font-size="32" text-anchor="end">-10</text>
<text class="s" x="468.8" y="916.1" font-size="32" text-anchor="end">-20</text>
<text class="s" x="468.8" y="981.0" font-size="32" text-anchor="end">-30</text>
<text class="s" x="609.2" y="566.5" font-size="35" text-anchor="middle" style="fill:#000">O-I</text>
<text class="s" transform="translate(409.3,774.8) rotate(-90)" x="0" y="0" font-size="35" text-anchor="middle">TestDBP-RefDBP(mmHg)</text>
<clipPath id="cb3"><rect x="858.5" y="580.0" width="261.0" height="387.5"/></clipPath>
<g clip-path="url(#cb3)"><path filter="url(#bl)" d="M909.4 581.2h0M889.2 611.2h0M894.1 621.6h0M893.5 624.7h0M890.4 633.2h0M905.1 631.7h0M946.8 634.8h0M878.2 640.0h0M886.2 644.6h0M904.5 645.5h0M922.9 647.9h0M908.2 659.0h0M911.9 658.3h0M914.9 657.7h0M930.2 654.1h0M928.4 657.7h0M927.8 660.8h0M938.2 657.7h0M981.4 656.5h0M959.4 664.5h0M877.6 667.9h0M890.4 670.0h0M894.7 673.0h0M928.4 672.4h0M933.3 673.3h0M955.3 676.1h0M910.0 681.8h0M919.8 681.6h0M948.0 683.4h0M946.1 687.7h0M944.3 691.4h0M943.1 695.1h0M864.1 692.0h0M879.4 687.7h0M889.2 685.3h0M887.4 690.2h0M886.8 693.8h0M889.8 696.3h0M893.5 700.0h0M894.1 703.6h0M897.2 692.0h0M902.7 689.6h0M903.9 698.7h0M916.8 689.0h0M914.9 693.8h0M913.1 700.0h0M911.9 704.9h0M910.6 708.5h0M930.8 691.4h0M922.9 696.3h0M926.6 698.7h0M930.2 701.2h0M932.1 704.9h0M921.7 702.4h0M924.1 707.3h0M954.1 691.6h0M959.6 690.2h0M968.2 692.6h0M966.3 697.5h0M950.4 702.4h0M890.4 708.5h0M899.6 709.1h0M919.2 709.1h0M961.5 709.1h0M879.4 709.8h0M994.5 686.5h0M880.6 712.4h0M887.4 718.6h0M876.4 722.2h0M880.0 722.2h0M868.4 745.5h0M863.5 759.0h0M887.4 740.0h0M886.2 745.5h0M888.0 749.2h0M887.4 757.7h0M889.8 761.4h0M878.2 770.6h0M859.2 773.7h0M887.4 770.6h0M888.6 774.9h0M890.4 777.9h0M891.1 784.7h0M889.2 817.1h0M886.2 836.7h0M1015.9 717.3h0M1007.4 727.1h0M1017.2 726.5h0M1030.6 728.4h0M998.8 736.9h0M1003.7 735.7h0M992.1 743.1h0M995.1 746.7h0M997.6 750.4h0M1001.2 751.6h0M1004.9 746.7h0M1006.1 754.1h0M1011.0 755.3h0M1036.1 751.6h0M1038.6 759.6h0M995.1 759.6h0M998.8 762.6h0M1017.8 763.3h0M991.4 771.2h0M1000.0 772.4h0M998.8 776.1h0M997.6 779.2h0M1008.0 779.2h0M990.2 790.2h0M998.8 790.8h0M994.5 800.6h0M998.8 803.0h0M1003.7 803.0h0M990.8 806.7h0M1006.1 809.2h0M1004.9 814.0h0M1003.7 817.7h0M1007.4 817.7h0M1015.9 806.7h0M1015.9 810.4h0M1018.4 815.3h0M1017.2 819.0h0M1022.1 814.0h0M1023.3 816.5h0M1031.8 804.3h0M1033.1 811.6h0M1031.8 815.3h0M1044.7 807.9h0M991.4 822.6h0M996.3 821.4h0M993.9 828.7h0M997.6 830.0h0M1000.0 831.2h0M1044.1 834.2h0M1009.8 836.1h0M1013.5 837.3h0M991.4 837.3h0M998.8 839.1h0M1022.1 839.1h0M886.8 838.0h0M931.5 839.2h0M935.1 841.1h0M938.2 842.9h0M926.0 846.6h0M933.9 850.2h0M942.5 853.9h0M939.4 861.0h0M948.6 861.9h0M959.4 846.3h0M960.2 857.3h0M957.8 863.7h0M976.1 864.9h0M987.8 857.6h0M975.5 839.2h0M980.4 840.4h0M984.1 842.9h0M963.3 838.0h0M903.9 856.1h0M894.7 879.6h0M959.6 883.3h0M960.2 881.5h0M947.4 892.5h0M979.8 893.7h0M912.5 897.4h0M904.5 904.7h0M969.4 909.6h0M981.0 929.2h0M990.8 839.8h0M1000.0 839.8h0M1011.0 838.6h0M1014.1 840.4h0M1022.7 842.3h0M1031.2 844.1h0M1001.9 847.2h0M1023.9 851.5h0M991.4 850.9h0M995.1 852.1h0M989.6 857.6h0M997.0 860.0h0M996.3 862.5h0M1036.1 856.4h0M1039.8 859.4h0M993.9 869.2h0M1001.9 872.9h0M1000.0 876.6h0M1004.9 877.2h0M1015.7 874.1h0M1007.4 883.5h0M996.3 887.6h0M1044.1 886.4h0M1011.0 912.1h0M1020.2 926.1h0M1053.3 939.8h0M917.0 727.3h0M896.4 721.7h0M904.6 729.6h0M906.7 734.7h0M903.8 738.6h0M911.9 735.0h0M915.8 719.3h0M896.4 739.0h0M912.2 729.6h0M912.5 724.6h0M894.5 722.1h0M907.3 727.8h0M908.6 715.7h0M912.2 717.0h0M918.2 723.1h0M901.8 725.6h0M903.3 727.3h0M901.2 710.4h0M914.0 730.9h0M904.1 730.8h0M919.1 715.1h0M893.7 711.4h0M898.0 719.8h0M917.0 722.4h0M900.0 735.4h0M904.9 714.3h0M904.4 721.7h0M899.0 734.1h0M909.5 715.2h0M918.9 713.8h0M911.3 712.8h0M907.3 723.3h0M914.7 734.8h0M916.8 719.0h0M893.3 717.7h0M892.6 713.0h0M917.4 741.5h0M922.4 712.1h0M905.5 734.3h0M904.0 727.8h0M891.3 725.0h0M904.5 740.8h0M945.7 724.4h0M955.2 724.8h0M951.9 713.9h0M937.9 731.2h0M943.4 719.0h0M940.0 733.4h0M955.6 713.6h0M937.1 712.0h0M933.5 721.1h0M951.9 734.5h0M954.8 712.6h0M937.2 722.9h0M936.7 732.7h0M941.5 734.0h0M950.2 730.8h0M932.9 731.6h0M945.3 735.7h0M929.4 712.8h0M947.4 725.2h0M943.6 723.2h0M952.3 731.3h0M931.7 724.7h0M939.8 725.5h0M946.5 720.5h0M950.7 722.5h0M928.8 739.5h0M929.2 713.6h0M934.8 727.1h0M954.9 730.1h0M936.6 725.0h0M942.2 734.6h0M932.6 712.7h0M931.1 735.0h0M932.9 737.5h0M943.8 718.4h0M939.9 717.2h0M929.2 722.3h0M942.3 741.5h0M951.3 734.6h0M941.6 728.2h0M951.3 711.7h0M946.1 716.7h0M958.8 740.1h0M966.8 714.1h0M958.3 714.5h0M975.7 725.8h0M980.8 740.8h0M963.8 731.9h0M985.3 715.0h0M977.5 725.9h0M957.6 726.9h0M959.6 736.5h0M984.1 716.8h0M958.8 736.5h0M964.3 728.4h0M915.8 769.3h0M898.7 767.1h0M899.8 760.2h0M918.4 769.8h0M906.2 757.0h0M896.7 767.6h0M908.2 760.2h0M916.2 770.8h0M916.0 750.3h0M907.8 758.3h0M919.8 755.7h0M894.2 759.1h0M897.4 758.9h0M923.4 743.8h0M920.4 761.9h0M916.0 756.3h0M893.3 758.4h0M910.4 770.4h0M901.8 755.9h0M895.3 754.7h0M895.4 754.7h0M913.9 745.7h0M917.2 762.2h0M915.9 743.4h0M902.3 774.3h0M895.3 763.9h0M916.0 745.0h0M901.2 755.6h0M892.1 757.4h0M907.0 754.1h0M900.2 753.2h0M930.2 748.2h0M934.6 773.2h0M951.4 761.5h0M953.7 754.8h0M952.9 769.4h0M935.3 774.2h0M942.3 766.0h0M939.1 774.9h0M925.5 774.6h0M933.0 773.0h0M930.9 770.3h0M951.6 742.6h0M953.9 761.8h0M944.0 762.0h0M928.8 753.5h0M923.8 773.8h0M924.1 758.1h0M927.9 772.5h0M924.0 759.1h0M943.6 749.3h0M927.4 765.6h0M932.4 749.5h0M930.7 758.1h0M951.8 771.7h0M953.7 764.0h0M955.2 760.1h0M928.5 764.9h0M932.6 743.5h0M953.8 749.7h0M944.1 748.1h0M935.2 755.7h0M938.8 771.0h0M930.8 760.6h0M925.5 771.4h0M924.3 771.6h0M927.5 758.0h0M945.5 745.0h0M947.9 766.4h0M953.2 758.8h0M950.3 765.4h0M926.0 748.1h0M935.5 751.3h0M980.6 750.9h0M983.7 767.7h0M973.2 774.3h0M958.0 752.2h0M965.5 757.7h0M976.4 754.9h0M968.1 772.6h0M968.6 745.0h0M964.1 772.3h0M967.3 747.5h0M957.4 773.4h0M968.2 750.7h0M966.7 764.0h0M958.9 757.2h0M960.2 758.7h0M957.4 769.7h0M983.5 746.5h0M961.6 744.0h0M963.9 745.2h0M974.1 750.3h0M976.8 767.2h0M979.9 759.2h0M892.8 801.0h0M903.1 794.5h0M910.2 803.4h0M896.5 800.8h0M895.2 775.8h0M920.6 790.6h0M908.1 794.4h0M901.3 778.3h0M904.5 780.4h0M902.0 803.6h0M916.6 801.9h0M916.7 804.8h0M903.3 783.0h0M905.6 793.8h0M917.2 803.9h0M908.5 794.6h0M921.1 775.7h0M894.5 775.3h0M895.6 807.0h0M906.2 798.7h0M903.4 781.8h0M919.8 801.6h0M934.3 802.2h0M949.9 790.3h0M947.4 797.8h0M942.8 785.6h0M930.3 806.4h0M937.0 801.9h0M947.6 794.2h0M927.6 791.2h0M927.6 779.7h0M950.0 797.5h0M955.5 784.8h0M929.5 800.8h0M943.2 802.2h0M955.7 792.7h0M926.7 795.9h0M929.5 802.6h0M951.3 802.8h0M928.3 800.6h0M929.1 802.2h0M942.9 803.9h0M953.7 801.0h0M941.1 805.4h0M938.5 806.4h0M927.9 777.7h0M943.5 798.4h0M943.0 784.7h0M944.9 788.1h0M925.3 783.9h0M931.7 798.7h0M929.3 802.5h0M950.9 788.0h0M962.5 802.2h0M975.3 781.5h0M985.9 780.8h0M956.6 792.9h0M969.0 780.2h0M967.9 793.8h0M976.4 795.2h0M969.7 796.2h0M972.9 796.8h0M961.0 805.5h0M977.0 780.4h0M980.2 786.2h0M968.7 797.8h0M961.3 777.1h0M965.8 792.8h0M961.3 797.0h0M972.8 789.1h0M980.6 789.6h0M961.9 784.7h0M956.4 778.3h0M984.7 780.3h0M976.9 788.6h0M977.9 799.7h0M974.5 784.4h0M965.2 779.1h0M971.3 802.6h0M965.0 793.5h0M972.1 793.5h0M986.9 787.8h0M978.6 805.8h0M987.6 795.7h0M957.2 775.6h0M969.8 777.8h0M965.3 783.2h0M965.5 801.5h0M974.7 805.2h0M904.0 820.5h0M916.4 834.9h0M913.6 824.8h0M898.5 820.5h0M895.2 816.0h0M918.2 838.4h0M911.8 830.6h0M920.1 821.2h0M901.7 827.0h0M909.8 829.2h0M909.8 816.3h0M912.3 836.7h0M900.8 822.4h0M894.2 808.2h0M939.3 833.2h0M942.0 810.9h0M942.5 822.2h0M927.4 812.5h0M949.1 835.9h0M934.6 829.3h0M944.9 815.1h0M945.3 821.8h0M942.4 831.6h0M940.0 825.7h0M934.1 812.0h0M940.5 808.2h0M933.0 839.7h0M931.5 825.4h0M946.5 823.0h0M928.7 828.1h0M945.2 811.6h0M928.1 815.0h0M926.5 825.2h0M931.1 837.6h0M924.3 838.4h0M939.1 837.0h0M944.7 812.2h0M925.7 828.6h0M941.4 832.2h0M944.5 821.1h0M947.3 815.3h0M943.0 830.1h0M952.9 823.9h0M950.7 835.4h0M930.8 830.0h0M986.8 835.5h0M983.6 824.7h0M978.0 820.8h0M981.1 834.0h0M964.6 815.0h0M964.3 810.1h0M975.6 825.0h0M978.8 812.4h0M958.2 807.9h0M975.5 815.8h0M968.5 838.4h0M968.1 810.4h0M959.2 816.2h0M966.0 836.4h0M987.7 833.1h0M968.0 839.7h0M964.2 835.8h0M976.2 819.7h0M976.5 835.2h0M961.3 819.2h0M966.4 829.3h0M972.6 839.8h0M962.9 811.1h0M981.7 821.6h0M957.6 837.7h0M988.1 824.6h0M972.7 809.2h0M966.4 838.5h0M967.7 813.5h0M975.8 826.8h0M970.5 833.5h0M966.2 839.3h0M969.1 812.4h0M960.1 823.7h0M974.7 818.0h0M983.1 811.1h0" stroke="#0a63a8" stroke-width="5.9" stroke-linecap="round" fill="none"/></g>
<line x1="858.5" x2="1119.5" y1="648.7" y2="648.7" stroke="#ff0000" stroke-width="4.6" stroke-dasharray="21 16.6"/>
<line x1="858.5" x2="1119.5" y1="767.9" y2="767.9" stroke="#000" stroke-width="4.6" stroke-dasharray="21 16.6"/>
<line x1="858.5" x2="1119.5" y1="887.0" y2="887.0" stroke="#ff0000" stroke-width="4.6" stroke-dasharray="21 16.6"/>
<text class="a" x="1023.9" y="633.0" fill="#ff0000">19.36</text>
<text class="a" x="1042.1" y="739.0" fill="#000">0.91</text>
<text class="a" x="858.0" y="936.5" fill="#ff0000">-17.54</text>
<rect x="858.5" y="580.0" width="261.0" height="387.5" fill="none" stroke="#3a3a3a" stroke-width="1.9"/>
<path d="M858.5 967.5v-3.6M858.5 580.0v3.6M1095.8 967.5v-3.6M1095.8 580.0v3.6M858.5 580.0h3.6M1119.5 580.0h-3.6M858.5 644.6h3.6M1119.5 644.6h-3.6M858.5 709.2h3.6M1119.5 709.2h-3.6M858.5 773.8h3.6M1119.5 773.8h-3.6M858.5 838.3h3.6M1119.5 838.3h-3.6M858.5 902.9h3.6M1119.5 902.9h-3.6M858.5 967.5h3.6M1119.5 967.5h-3.6" stroke="#222" stroke-width="1.9" fill="none"/>
<text class="s" x="858.5" y="1010.0" font-size="32" text-anchor="middle">50</text>
<text class="s" x="1095.8" y="1010.0" font-size="32" text-anchor="middle">100</text>
<text class="s" x="848.3" y="591.5" font-size="32" text-anchor="end">30</text>
<text class="s" x="848.3" y="656.4" font-size="32" text-anchor="end">20</text>
<text class="s" x="848.3" y="721.3" font-size="32" text-anchor="end">10</text>
<text class="s" x="848.3" y="786.2" font-size="32" text-anchor="end">0</text>
<text class="s" x="848.3" y="851.2" font-size="32" text-anchor="end">-10</text>
<text class="s" x="848.3" y="916.1" font-size="32" text-anchor="end">-20</text>
<text class="s" x="848.3" y="981.0" font-size="32" text-anchor="end">-30</text>
<text class="s" x="989.0" y="566.5" font-size="35" text-anchor="middle" style="fill:#000">O-II</text>
<text class="s" transform="translate(788.8,774.8) rotate(-90)" x="0" y="0" font-size="35" text-anchor="middle">TestDBP-RefDBP(mmHg)</text>
<text class="s" x="295" y="520.7" font-size="39.75" style="fill:#000">Mean of TestSBP and RefSBP(mmHg)</text>
<text class="s" x="281.3" y="1049.5" font-size="39.7" style="fill:#000">Mean of TestDBP and RefDBP(mmHg)</text>
</svg></body></html>
